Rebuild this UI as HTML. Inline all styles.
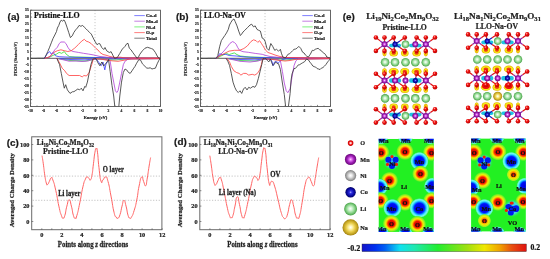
<!DOCTYPE html>
<html><head><meta charset="utf-8"><style>
html,body{margin:0;padding:0;background:#fff;width:550px;height:259px;overflow:hidden;}
svg{display:block;will-change:transform;}
</style></head><body>
<svg width="550" height="259" viewBox="0 0 550 259">
<defs>
<radialGradient id="gO" cx="0.38" cy="0.35" r="0.7"><stop offset="0" stop-color="#ffb0a0"/><stop offset="0.35" stop-color="#f01010"/><stop offset="1" stop-color="#b00000"/></radialGradient>
<radialGradient id="gMn" cx="0.5" cy="0.5" r="0.5"><stop offset="0" stop-color="#ffd0ff"/><stop offset="0.25" stop-color="#e070f0"/><stop offset="0.6" stop-color="#a020b8"/><stop offset="1" stop-color="#6a0878"/></radialGradient>
<radialGradient id="gCo" cx="0.5" cy="0.5" r="0.5"><stop offset="0" stop-color="#b0b0ff"/><stop offset="0.25" stop-color="#3030e0"/><stop offset="0.6" stop-color="#1010b0"/><stop offset="1" stop-color="#000068"/></radialGradient>
<radialGradient id="gLi" cx="0.5" cy="0.5" r="0.5" fx="0.48" fy="0.48"><stop offset="0" stop-color="#ffffff"/><stop offset="0.25" stop-color="#d8f4d8"/><stop offset="0.58" stop-color="#98dc98"/><stop offset="0.86" stop-color="#62b862"/><stop offset="1" stop-color="#4c9c4c"/></radialGradient>
<radialGradient id="gNa" cx="0.5" cy="0.5" r="0.5"><stop offset="0" stop-color="#ffffff"/><stop offset="0.22" stop-color="#fff4b0"/><stop offset="0.55" stop-color="#e8cc48"/><stop offset="0.85" stop-color="#c0a020"/><stop offset="1" stop-color="#a08010"/></radialGradient>
<radialGradient id="gNi" cx="0.5" cy="0.5" r="0.5"><stop offset="0" stop-color="#ffffff"/><stop offset="0.3" stop-color="#e8e8e8"/><stop offset="0.65" stop-color="#b4b4b4"/><stop offset="1" stop-color="#7c7c7c"/></radialGradient>
<radialGradient id="gOl" cx="0.5" cy="0.5" r="0.5"><stop offset="0" stop-color="#ffffff"/><stop offset="0.3" stop-color="#ffb0b0"/><stop offset="0.6" stop-color="#f01010"/><stop offset="1" stop-color="#c00000"/></radialGradient>
<radialGradient id="blobO" cx="0.5" cy="0.5" r="0.5"><stop offset="0" stop-color="#c80000"/><stop offset="0.36" stop-color="#f01400"/><stop offset="0.46" stop-color="#ff6000"/><stop offset="0.55" stop-color="#ffb400"/><stop offset="0.63" stop-color="#f2f000"/><stop offset="0.74" stop-color="#b8f020"/><stop offset="0.87" stop-color="#70f020"/><stop offset="1" stop-color="#22f022" stop-opacity="0"/></radialGradient>
<radialGradient id="blobO2" cx="0.5" cy="0.5" r="0.5"><stop offset="0" stop-color="#e00000"/><stop offset="0.22" stop-color="#f04000"/><stop offset="0.4" stop-color="#ffa000"/><stop offset="0.6" stop-color="#f0f000"/><stop offset="0.85" stop-color="#a0f020"/><stop offset="1" stop-color="#22f022" stop-opacity="0"/></radialGradient>
<radialGradient id="blobH" cx="0.5" cy="0.5" r="0.5"><stop offset="0" stop-color="#0000e0"/><stop offset="0.47" stop-color="#0010f8"/><stop offset="0.55" stop-color="#0050ff"/><stop offset="0.63" stop-color="#10a0ff"/><stop offset="0.72" stop-color="#40e0ff"/><stop offset="0.83" stop-color="#78f8e8"/><stop offset="0.93" stop-color="#40f080"/><stop offset="1" stop-color="#22f022" stop-opacity="0"/></radialGradient>
<radialGradient id="blobT" cx="0.5" cy="0.5" r="0.5"><stop offset="0" stop-color="#20c0f0"/><stop offset="0.6" stop-color="#40d8e0"/><stop offset="1" stop-color="#22f022" stop-opacity="0"/></radialGradient>
<radialGradient id="blobB" cx="0.5" cy="0.5" r="0.5"><stop offset="0" stop-color="#0000e8"/><stop offset="0.5" stop-color="#0010f8"/><stop offset="0.62" stop-color="#0070ff"/><stop offset="0.75" stop-color="#40e0ff"/><stop offset="0.88" stop-color="#60f0c0"/><stop offset="1" stop-color="#22f022" stop-opacity="0"/></radialGradient>
<radialGradient id="blobBs" cx="0.5" cy="0.5" r="0.5"><stop offset="0" stop-color="#0030ff"/><stop offset="0.5" stop-color="#0060ff"/><stop offset="0.75" stop-color="#00d0f0"/><stop offset="1" stop-color="#40e040" stop-opacity="0"/></radialGradient>
<linearGradient id="jet" x1="0" y1="0" x2="1" y2="0">
<stop offset="0" stop-color="#1414c8"/><stop offset="0.08" stop-color="#0030f0"/><stop offset="0.14" stop-color="#0060f4"/><stop offset="0.23" stop-color="#10e0f0"/><stop offset="0.32" stop-color="#20e8b0"/><stop offset="0.46" stop-color="#22ee30"/><stop offset="0.64" stop-color="#a0e010"/><stop offset="0.745" stop-color="#f0e800"/><stop offset="0.84" stop-color="#f0a000"/><stop offset="0.91" stop-color="#e85010"/><stop offset="1" stop-color="#e01010"/></linearGradient>
<clipPath id="clipa"><rect x="30.5" y="10.2" width="130" height="96.3"/></clipPath>
<clipPath id="clipb"><rect x="200.5" y="10.2" width="130" height="96.3"/></clipPath>
<clipPath id="clipm1"><rect x="378.6" y="138.8" width="55.2" height="93.2"/></clipPath>
<clipPath id="clipm2"><rect x="471.1" y="138.5" width="54.8" height="93.3"/></clipPath>
</defs>
<rect width="550" height="259" fill="#ffffff"/>
<text x="7.6" y="19.7" font-family='"Liberation Sans", sans-serif' font-size="9.9" font-weight="bold" text-anchor="start" fill="#1a1a1a" stroke="#1a1a1a" stroke-width="0.22" >(a)</text>
<text x="175.9" y="19.7" font-family='"Liberation Sans", sans-serif' font-size="9.9" font-weight="bold" text-anchor="start" fill="#1a1a1a" stroke="#1a1a1a" stroke-width="0.22" >(b)</text>
<text x="342.7" y="19.7" font-family='"Liberation Sans", sans-serif' font-size="9.9" font-weight="bold" text-anchor="start" fill="#1a1a1a" stroke="#1a1a1a" stroke-width="0.22" >(e)</text>
<text x="6.7" y="145.5" font-family='"Liberation Sans", sans-serif' font-size="9.9" font-weight="bold" text-anchor="start" fill="#1a1a1a" stroke="#1a1a1a" stroke-width="0.22" >(c)</text>
<text x="174.10000000000002" y="144.5" font-family='"Liberation Sans", sans-serif' font-size="9.9" font-weight="bold" text-anchor="start" fill="#1a1a1a" stroke="#1a1a1a" stroke-width="0.22" >(d)</text>
<line x1="30.5" y1="10.2" x2="32.1" y2="10.2" stroke="#333" stroke-width="0.6"/>
<line x1="30.5" y1="13.6" x2="31.5" y2="13.6" stroke="#333" stroke-width="0.5"/>
<text x="28.7" y="11.399999999999999" font-family='"Liberation Serif", serif' font-size="3.6" font-weight="bold" text-anchor="end" fill="#333" stroke="#333" stroke-width="0.22" >35</text>
<line x1="30.5" y1="17.1" x2="32.1" y2="17.1" stroke="#333" stroke-width="0.6"/>
<line x1="30.5" y1="20.5" x2="31.5" y2="20.5" stroke="#333" stroke-width="0.5"/>
<text x="28.7" y="18.27857142857143" font-family='"Liberation Serif", serif' font-size="3.6" font-weight="bold" text-anchor="end" fill="#333" stroke="#333" stroke-width="0.22" >30</text>
<line x1="30.5" y1="24.0" x2="32.1" y2="24.0" stroke="#333" stroke-width="0.6"/>
<line x1="30.5" y1="27.4" x2="31.5" y2="27.4" stroke="#333" stroke-width="0.5"/>
<text x="28.7" y="25.157142857142855" font-family='"Liberation Serif", serif' font-size="3.6" font-weight="bold" text-anchor="end" fill="#333" stroke="#333" stroke-width="0.22" >25</text>
<line x1="30.5" y1="30.8" x2="32.1" y2="30.8" stroke="#333" stroke-width="0.6"/>
<line x1="30.5" y1="34.3" x2="31.5" y2="34.3" stroke="#333" stroke-width="0.5"/>
<text x="28.7" y="32.035714285714285" font-family='"Liberation Serif", serif' font-size="3.6" font-weight="bold" text-anchor="end" fill="#333" stroke="#333" stroke-width="0.22" >20</text>
<line x1="30.5" y1="37.7" x2="32.1" y2="37.7" stroke="#333" stroke-width="0.6"/>
<line x1="30.5" y1="41.2" x2="31.5" y2="41.2" stroke="#333" stroke-width="0.5"/>
<text x="28.7" y="38.91428571428572" font-family='"Liberation Serif", serif' font-size="3.6" font-weight="bold" text-anchor="end" fill="#333" stroke="#333" stroke-width="0.22" >15</text>
<line x1="30.5" y1="44.6" x2="32.1" y2="44.6" stroke="#333" stroke-width="0.6"/>
<line x1="30.5" y1="48.0" x2="31.5" y2="48.0" stroke="#333" stroke-width="0.5"/>
<text x="28.7" y="45.792857142857144" font-family='"Liberation Serif", serif' font-size="3.6" font-weight="bold" text-anchor="end" fill="#333" stroke="#333" stroke-width="0.22" >10</text>
<line x1="30.5" y1="51.5" x2="32.1" y2="51.5" stroke="#333" stroke-width="0.6"/>
<line x1="30.5" y1="54.9" x2="31.5" y2="54.9" stroke="#333" stroke-width="0.5"/>
<text x="28.7" y="52.67142857142858" font-family='"Liberation Serif", serif' font-size="3.6" font-weight="bold" text-anchor="end" fill="#333" stroke="#333" stroke-width="0.22" >5</text>
<line x1="30.5" y1="58.3" x2="32.1" y2="58.3" stroke="#333" stroke-width="0.6"/>
<line x1="30.5" y1="61.8" x2="31.5" y2="61.8" stroke="#333" stroke-width="0.5"/>
<text x="28.7" y="59.55" font-family='"Liberation Serif", serif' font-size="3.6" font-weight="bold" text-anchor="end" fill="#333" stroke="#333" stroke-width="0.22" >0</text>
<line x1="30.5" y1="65.2" x2="32.1" y2="65.2" stroke="#333" stroke-width="0.6"/>
<line x1="30.5" y1="68.7" x2="31.5" y2="68.7" stroke="#333" stroke-width="0.5"/>
<text x="28.7" y="66.42857142857143" font-family='"Liberation Serif", serif' font-size="3.6" font-weight="bold" text-anchor="end" fill="#333" stroke="#333" stroke-width="0.22" >-5</text>
<line x1="30.5" y1="72.1" x2="32.1" y2="72.1" stroke="#333" stroke-width="0.6"/>
<line x1="30.5" y1="75.5" x2="31.5" y2="75.5" stroke="#333" stroke-width="0.5"/>
<text x="28.7" y="73.30714285714286" font-family='"Liberation Serif", serif' font-size="3.6" font-weight="bold" text-anchor="end" fill="#333" stroke="#333" stroke-width="0.22" >-10</text>
<line x1="30.5" y1="79.0" x2="32.1" y2="79.0" stroke="#333" stroke-width="0.6"/>
<line x1="30.5" y1="82.4" x2="31.5" y2="82.4" stroke="#333" stroke-width="0.5"/>
<text x="28.7" y="80.1857142857143" font-family='"Liberation Serif", serif' font-size="3.6" font-weight="bold" text-anchor="end" fill="#333" stroke="#333" stroke-width="0.22" >-15</text>
<line x1="30.5" y1="85.9" x2="32.1" y2="85.9" stroke="#333" stroke-width="0.6"/>
<line x1="30.5" y1="89.3" x2="31.5" y2="89.3" stroke="#333" stroke-width="0.5"/>
<text x="28.7" y="87.06428571428572" font-family='"Liberation Serif", serif' font-size="3.6" font-weight="bold" text-anchor="end" fill="#333" stroke="#333" stroke-width="0.22" >-20</text>
<line x1="30.5" y1="92.7" x2="32.1" y2="92.7" stroke="#333" stroke-width="0.6"/>
<line x1="30.5" y1="96.2" x2="31.5" y2="96.2" stroke="#333" stroke-width="0.5"/>
<text x="28.7" y="93.94285714285715" font-family='"Liberation Serif", serif' font-size="3.6" font-weight="bold" text-anchor="end" fill="#333" stroke="#333" stroke-width="0.22" >-25</text>
<line x1="30.5" y1="99.6" x2="32.1" y2="99.6" stroke="#333" stroke-width="0.6"/>
<line x1="30.5" y1="103.1" x2="31.5" y2="103.1" stroke="#333" stroke-width="0.5"/>
<text x="28.7" y="100.82142857142858" font-family='"Liberation Serif", serif' font-size="3.6" font-weight="bold" text-anchor="end" fill="#333" stroke="#333" stroke-width="0.22" >-30</text>
<line x1="30.5" y1="106.5" x2="32.1" y2="106.5" stroke="#333" stroke-width="0.6"/>
<text x="28.7" y="107.7" font-family='"Liberation Serif", serif' font-size="3.6" font-weight="bold" text-anchor="end" fill="#333" stroke="#333" stroke-width="0.22" >-35</text>
<line x1="30.5" y1="106.5" x2="30.5" y2="104.9" stroke="#333" stroke-width="0.6"/>
<text x="30.5" y="112.1" font-family='"Liberation Serif", serif' font-size="3.6" font-weight="bold" text-anchor="middle" fill="#333" stroke="#333" stroke-width="0.22" >-10</text>
<line x1="37.0" y1="106.5" x2="37.0" y2="105.5" stroke="#333" stroke-width="0.6"/>
<line x1="43.5" y1="106.5" x2="43.5" y2="104.9" stroke="#333" stroke-width="0.6"/>
<text x="43.5" y="112.1" font-family='"Liberation Serif", serif' font-size="3.6" font-weight="bold" text-anchor="middle" fill="#333" stroke="#333" stroke-width="0.22" >-8</text>
<line x1="50.0" y1="106.5" x2="50.0" y2="105.5" stroke="#333" stroke-width="0.6"/>
<line x1="56.5" y1="106.5" x2="56.5" y2="104.9" stroke="#333" stroke-width="0.6"/>
<text x="56.5" y="112.1" font-family='"Liberation Serif", serif' font-size="3.6" font-weight="bold" text-anchor="middle" fill="#333" stroke="#333" stroke-width="0.22" >-6</text>
<line x1="63.0" y1="106.5" x2="63.0" y2="105.5" stroke="#333" stroke-width="0.6"/>
<line x1="69.5" y1="106.5" x2="69.5" y2="104.9" stroke="#333" stroke-width="0.6"/>
<text x="69.5" y="112.1" font-family='"Liberation Serif", serif' font-size="3.6" font-weight="bold" text-anchor="middle" fill="#333" stroke="#333" stroke-width="0.22" >-4</text>
<line x1="76.0" y1="106.5" x2="76.0" y2="105.5" stroke="#333" stroke-width="0.6"/>
<line x1="82.5" y1="106.5" x2="82.5" y2="104.9" stroke="#333" stroke-width="0.6"/>
<text x="82.5" y="112.1" font-family='"Liberation Serif", serif' font-size="3.6" font-weight="bold" text-anchor="middle" fill="#333" stroke="#333" stroke-width="0.22" >-2</text>
<line x1="89.0" y1="106.5" x2="89.0" y2="105.5" stroke="#333" stroke-width="0.6"/>
<line x1="95.5" y1="106.5" x2="95.5" y2="104.9" stroke="#333" stroke-width="0.6"/>
<text x="95.5" y="112.1" font-family='"Liberation Serif", serif' font-size="3.6" font-weight="bold" text-anchor="middle" fill="#333" stroke="#333" stroke-width="0.22" >0</text>
<line x1="102.0" y1="106.5" x2="102.0" y2="105.5" stroke="#333" stroke-width="0.6"/>
<line x1="108.5" y1="106.5" x2="108.5" y2="104.9" stroke="#333" stroke-width="0.6"/>
<text x="108.5" y="112.1" font-family='"Liberation Serif", serif' font-size="3.6" font-weight="bold" text-anchor="middle" fill="#333" stroke="#333" stroke-width="0.22" >2</text>
<line x1="115.0" y1="106.5" x2="115.0" y2="105.5" stroke="#333" stroke-width="0.6"/>
<line x1="121.5" y1="106.5" x2="121.5" y2="104.9" stroke="#333" stroke-width="0.6"/>
<text x="121.5" y="112.1" font-family='"Liberation Serif", serif' font-size="3.6" font-weight="bold" text-anchor="middle" fill="#333" stroke="#333" stroke-width="0.22" >4</text>
<line x1="128.0" y1="106.5" x2="128.0" y2="105.5" stroke="#333" stroke-width="0.6"/>
<line x1="134.5" y1="106.5" x2="134.5" y2="104.9" stroke="#333" stroke-width="0.6"/>
<text x="134.5" y="112.1" font-family='"Liberation Serif", serif' font-size="3.6" font-weight="bold" text-anchor="middle" fill="#333" stroke="#333" stroke-width="0.22" >6</text>
<line x1="141.0" y1="106.5" x2="141.0" y2="105.5" stroke="#333" stroke-width="0.6"/>
<line x1="147.5" y1="106.5" x2="147.5" y2="104.9" stroke="#333" stroke-width="0.6"/>
<text x="147.5" y="112.1" font-family='"Liberation Serif", serif' font-size="3.6" font-weight="bold" text-anchor="middle" fill="#333" stroke="#333" stroke-width="0.22" >8</text>
<line x1="154.0" y1="106.5" x2="154.0" y2="105.5" stroke="#333" stroke-width="0.6"/>
<line x1="160.5" y1="106.5" x2="160.5" y2="104.9" stroke="#333" stroke-width="0.6"/>
<text x="160.5" y="112.1" font-family='"Liberation Serif", serif' font-size="3.6" font-weight="bold" text-anchor="middle" fill="#333" stroke="#333" stroke-width="0.22" >10</text>
<text x="95.5" y="119.3" font-family='"Liberation Serif", serif' font-size="4.5" font-weight="bold" text-anchor="middle" fill="#222" stroke="#222" stroke-width="0.22" >Energy (eV)</text>
<text x="0" y="0" font-family='"Liberation Serif", serif' font-size="4.5" font-weight="bold" fill="#222" stroke="#222" stroke-width="0.15" text-anchor="middle" transform="translate(16.9,59) rotate(-90)">PDOS (States/eV)</text>
<line x1="95.0" y1="10.2" x2="95.0" y2="106.5" stroke="#a0a0a0" stroke-width="0.7" stroke-dasharray="0.9,2.1"/>
<line x1="30.5" y1="58.3" x2="160.5" y2="58.3" stroke="#333" stroke-width="0.8"/>
<g clip-path="url(#clipa)">
<polyline points="46.0,58.2 50.4,56.7 53.9,55.0 56.5,54.1 59.1,52.4 61.7,53.3 64.3,51.5 66.1,54.1 69.6,56.7 75.0,57.0 85.0,57.2 95.0,57.5 110.0,57.6 160.0,58.0" fill="none" stroke="#30e030" stroke-width="0.9" stroke-linejoin="round" stroke-linecap="round" opacity="0.9"/>
<polyline points="58.0,58.5 70.0,60.5 85.0,61.0 93.0,59.5 100.0,59.2 108.0,59.8 116.2,59.9 122.0,59.3 130.0,58.8 160.0,58.6" fill="none" stroke="#30e030" stroke-width="0.9" stroke-linejoin="round" stroke-linecap="round" opacity="0.9"/>
<polyline points="44.3,58.2 47.0,54.1 49.6,51.5 51.3,54.1 53.0,52.4 55.7,55.9 59.1,56.7 65.0,57.0 75.0,57.3 85.0,57.5 95.0,57.6 100.0,57.3 105.0,57.6 160.0,58.2" fill="none" stroke="#3a3aff" stroke-width="0.9" stroke-linejoin="round" stroke-linecap="round" opacity="0.9"/>
<polyline points="60.0,58.5 70.0,59.5 85.0,59.8 94.0,59.0 96.5,59.5 98.7,62.1 100.0,64.5 101.3,65.6 103.0,62.1 104.8,69.9 106.0,64.0 107.5,61.8 109.5,58.9 115.0,58.8 160.0,58.6" fill="none" stroke="#3a3aff" stroke-width="0.9" stroke-linejoin="round" stroke-linecap="round" opacity="0.9"/>
<polyline points="45.0,58.2 50.0,57.0 54.8,49.8 57.4,47.2 59.1,43.7 60.9,42.0 64.3,42.0 66.1,43.7 67.8,47.2 69.6,49.8 73.0,51.5 78.3,52.4 83.5,53.3 88.7,54.1 93.9,55.0 100.0,56.5 105.0,57.0 112.0,58.0 160.0,58.2" fill="none" stroke="#b040d8" stroke-width="0.9" stroke-linejoin="round" stroke-linecap="round" opacity="0.9"/>
<polyline points="56.0,58.5 62.0,59.5 69.0,61.2 76.0,61.0 82.0,61.5 88.0,61.0 94.0,59.0 100.0,59.0 105.0,59.3 108.5,59.8 110.2,61.2 112.0,73.4 113.7,82.1 115.4,90.8 116.8,92.5 118.0,90.8 119.8,82.1 121.5,73.4 123.3,64.7 125.0,61.2 127.6,59.5 132.0,58.8 160.0,58.6" fill="none" stroke="#b040d8" stroke-width="0.9" stroke-linejoin="round" stroke-linecap="round" opacity="0.9"/>
<polyline points="45.0,58.2 48.0,57.5 50.4,55.9 53.9,52.4 57.4,50.7 60.9,49.8 64.3,50.7 67.8,51.5 71.3,50.7 74.8,48.0 78.3,44.6 81.7,41.1 84.3,39.3 86.1,41.1 88.7,42.0 91.3,43.7 93.9,46.3 96.0,48.5 98.0,50.0 100.0,52.5 103.0,54.5 106.0,55.2 110.0,56.5 115.0,57.5 120.0,57.2 125.0,57.8 160.0,58.0" fill="none" stroke="#ff4040" stroke-width="0.9" stroke-linejoin="round" stroke-linecap="round" opacity="0.9"/>
<polyline points="57.0,58.5 59.6,63.0 62.2,68.2 64.8,70.8 66.5,73.4 69.1,75.5 74.0,75.5 79.6,75.5 82.2,76.9 83.9,75.5 86.5,76.0 89.1,72.5 91.7,64.7 93.5,58.6 100.0,59.0 106.0,60.0 112.0,60.8 118.0,61.3 124.0,60.2 130.0,59.0 160.0,58.6" fill="none" stroke="#ff4040" stroke-width="0.9" stroke-linejoin="round" stroke-linecap="round" opacity="0.9"/>
<polyline points="30.5,58.3 31.9,58.3 33.3,58.3 34.7,58.3 36.1,58.3 37.5,58.2 38.9,58.2 40.3,58.2 41.7,58.2 43.1,58.2 44.5,58.2 45.2,57.0 47.8,51.5 49.6,47.2 51.3,42.8 53.0,38.5 54.8,35.0 56.5,31.5 57.4,28.0 58.8,25.4 60.0,22.0 61.2,20.2 62.6,21.1 64.0,19.9 65.2,22.0 67.0,27.2 68.7,32.4 70.4,37.6 72.2,35.9 73.9,32.4 75.7,29.8 77.4,28.0 79.1,25.4 80.9,26.3 82.6,25.4 84.3,27.2 86.1,28.9 87.8,30.7 89.6,32.4 91.3,34.1 93.0,37.6 94.8,41.1 97.0,44.7 98.4,43.7 99.8,43.7 101.8,47.6 103.7,49.5 105.0,47.5 106.7,50.8 109.3,52.5 111.1,51.7 112.8,55.1 114.6,58.4 115.9,58.0 117.2,57.7 119.8,53.4 121.1,51.1 122.4,49.0 125.0,46.4 126.7,43.8 128.0,43.3 129.3,48.2 131.1,49.9 132.8,52.5 135.4,56.0 137.2,58.3 138.5,56.9 139.8,54.3 142.4,50.8 145.0,48.2 147.6,47.3 150.2,48.2 151.5,48.6 152.8,49.0 155.4,52.5 157.2,56.0 158.9,58.3 160.5,58.3" fill="none" stroke="#3a3a3a" stroke-width="0.85" stroke-linejoin="round" stroke-linecap="round" opacity="1"/>
<polyline points="57.0,58.5 58.3,61.8 59.6,64.7 61.3,73.4 63.0,82.1 64.3,88.2 65.7,84.7 67.4,89.9 70.0,93.4 72.6,91.7 73.9,91.7 75.2,90.8 77.8,89.0 79.6,89.9 81.3,88.2 83.0,90.8 84.8,86.4 85.7,87.3 87.4,82.1 89.1,73.4 90.9,64.7 92.6,59.5 94.3,58.5 96.0,58.5 97.9,62.8 99.8,65.7 101.8,62.0 103.7,66.0 105.6,63.7 107.0,62.0 108.5,59.5 110.2,71.7 112.0,85.6 113.7,96.0 114.8,106.5 116.1,107.0 117.5,107.3 118.8,106.5 119.8,96.0 121.5,82.1 123.3,72.5 125.0,69.0 126.7,69.9 128.5,72.5 130.2,73.4 132.0,70.8 133.7,68.2 135.0,66.4 136.3,63.8 138.9,59.5 140.7,60.3 142.4,63.8 145.0,66.4 146.8,68.1 148.5,68.2 150.2,67.8 152.0,69.0 153.7,68.5 155.4,68.2 157.2,63.8 158.9,60.3 160.5,58.5" fill="none" stroke="#3a3a3a" stroke-width="0.85" stroke-linejoin="round" stroke-linecap="round" opacity="1"/>
</g>
<rect x="30.5" y="10.2" width="130.0" height="96.3" fill="none" stroke="#555" stroke-width="0.9"/>
<line x1="134.3" y1="15.6" x2="144.8" y2="15.6" stroke="#7070ff" stroke-width="0.9"/>
<text x="145.9" y="17.3" font-family='"Liberation Serif", serif' font-size="5.0" font-weight="bold" text-anchor="start" fill="#222" stroke="#222" stroke-width="0.22" >Co-d</text>
<line x1="134.3" y1="21.2" x2="144.8" y2="21.2" stroke="#c070e0" stroke-width="0.9"/>
<text x="145.9" y="22.95" font-family='"Liberation Serif", serif' font-size="5.0" font-weight="bold" text-anchor="start" fill="#222" stroke="#222" stroke-width="0.22" >Mn-d</text>
<line x1="134.3" y1="26.9" x2="144.8" y2="26.9" stroke="#70f070" stroke-width="0.9"/>
<text x="145.9" y="28.599999999999998" font-family='"Liberation Serif", serif' font-size="5.0" font-weight="bold" text-anchor="start" fill="#222" stroke="#222" stroke-width="0.22" >Ni-d</text>
<line x1="134.3" y1="32.6" x2="144.8" y2="32.6" stroke="#ff7070" stroke-width="0.9"/>
<text x="145.9" y="34.25000000000001" font-family='"Liberation Serif", serif' font-size="5.0" font-weight="bold" text-anchor="start" fill="#222" stroke="#222" stroke-width="0.22" >O-p</text>
<line x1="134.3" y1="38.2" x2="144.8" y2="38.2" stroke="#707070" stroke-width="0.9"/>
<text x="145.9" y="39.900000000000006" font-family='"Liberation Serif", serif' font-size="5.0" font-weight="bold" text-anchor="start" fill="#222" stroke="#222" stroke-width="0.22" >Total</text>
<text x="34.0" y="17.8" font-family='"Liberation Serif", serif' font-size="7.9" font-weight="bold" text-anchor="start" fill="#111" stroke="#111" stroke-width="0.22" >Pristine-LLO</text>
<line x1="200.5" y1="10.2" x2="202.1" y2="10.2" stroke="#333" stroke-width="0.6"/>
<line x1="200.5" y1="13.6" x2="201.5" y2="13.6" stroke="#333" stroke-width="0.5"/>
<text x="198.7" y="11.399999999999999" font-family='"Liberation Serif", serif' font-size="3.6" font-weight="bold" text-anchor="end" fill="#333" stroke="#333" stroke-width="0.22" >35</text>
<line x1="200.5" y1="17.1" x2="202.1" y2="17.1" stroke="#333" stroke-width="0.6"/>
<line x1="200.5" y1="20.5" x2="201.5" y2="20.5" stroke="#333" stroke-width="0.5"/>
<text x="198.7" y="18.27857142857143" font-family='"Liberation Serif", serif' font-size="3.6" font-weight="bold" text-anchor="end" fill="#333" stroke="#333" stroke-width="0.22" >30</text>
<line x1="200.5" y1="24.0" x2="202.1" y2="24.0" stroke="#333" stroke-width="0.6"/>
<line x1="200.5" y1="27.4" x2="201.5" y2="27.4" stroke="#333" stroke-width="0.5"/>
<text x="198.7" y="25.157142857142855" font-family='"Liberation Serif", serif' font-size="3.6" font-weight="bold" text-anchor="end" fill="#333" stroke="#333" stroke-width="0.22" >25</text>
<line x1="200.5" y1="30.8" x2="202.1" y2="30.8" stroke="#333" stroke-width="0.6"/>
<line x1="200.5" y1="34.3" x2="201.5" y2="34.3" stroke="#333" stroke-width="0.5"/>
<text x="198.7" y="32.035714285714285" font-family='"Liberation Serif", serif' font-size="3.6" font-weight="bold" text-anchor="end" fill="#333" stroke="#333" stroke-width="0.22" >20</text>
<line x1="200.5" y1="37.7" x2="202.1" y2="37.7" stroke="#333" stroke-width="0.6"/>
<line x1="200.5" y1="41.2" x2="201.5" y2="41.2" stroke="#333" stroke-width="0.5"/>
<text x="198.7" y="38.91428571428572" font-family='"Liberation Serif", serif' font-size="3.6" font-weight="bold" text-anchor="end" fill="#333" stroke="#333" stroke-width="0.22" >15</text>
<line x1="200.5" y1="44.6" x2="202.1" y2="44.6" stroke="#333" stroke-width="0.6"/>
<line x1="200.5" y1="48.0" x2="201.5" y2="48.0" stroke="#333" stroke-width="0.5"/>
<text x="198.7" y="45.792857142857144" font-family='"Liberation Serif", serif' font-size="3.6" font-weight="bold" text-anchor="end" fill="#333" stroke="#333" stroke-width="0.22" >10</text>
<line x1="200.5" y1="51.5" x2="202.1" y2="51.5" stroke="#333" stroke-width="0.6"/>
<line x1="200.5" y1="54.9" x2="201.5" y2="54.9" stroke="#333" stroke-width="0.5"/>
<text x="198.7" y="52.67142857142858" font-family='"Liberation Serif", serif' font-size="3.6" font-weight="bold" text-anchor="end" fill="#333" stroke="#333" stroke-width="0.22" >5</text>
<line x1="200.5" y1="58.3" x2="202.1" y2="58.3" stroke="#333" stroke-width="0.6"/>
<line x1="200.5" y1="61.8" x2="201.5" y2="61.8" stroke="#333" stroke-width="0.5"/>
<text x="198.7" y="59.55" font-family='"Liberation Serif", serif' font-size="3.6" font-weight="bold" text-anchor="end" fill="#333" stroke="#333" stroke-width="0.22" >0</text>
<line x1="200.5" y1="65.2" x2="202.1" y2="65.2" stroke="#333" stroke-width="0.6"/>
<line x1="200.5" y1="68.7" x2="201.5" y2="68.7" stroke="#333" stroke-width="0.5"/>
<text x="198.7" y="66.42857142857143" font-family='"Liberation Serif", serif' font-size="3.6" font-weight="bold" text-anchor="end" fill="#333" stroke="#333" stroke-width="0.22" >-5</text>
<line x1="200.5" y1="72.1" x2="202.1" y2="72.1" stroke="#333" stroke-width="0.6"/>
<line x1="200.5" y1="75.5" x2="201.5" y2="75.5" stroke="#333" stroke-width="0.5"/>
<text x="198.7" y="73.30714285714286" font-family='"Liberation Serif", serif' font-size="3.6" font-weight="bold" text-anchor="end" fill="#333" stroke="#333" stroke-width="0.22" >-10</text>
<line x1="200.5" y1="79.0" x2="202.1" y2="79.0" stroke="#333" stroke-width="0.6"/>
<line x1="200.5" y1="82.4" x2="201.5" y2="82.4" stroke="#333" stroke-width="0.5"/>
<text x="198.7" y="80.1857142857143" font-family='"Liberation Serif", serif' font-size="3.6" font-weight="bold" text-anchor="end" fill="#333" stroke="#333" stroke-width="0.22" >-15</text>
<line x1="200.5" y1="85.9" x2="202.1" y2="85.9" stroke="#333" stroke-width="0.6"/>
<line x1="200.5" y1="89.3" x2="201.5" y2="89.3" stroke="#333" stroke-width="0.5"/>
<text x="198.7" y="87.06428571428572" font-family='"Liberation Serif", serif' font-size="3.6" font-weight="bold" text-anchor="end" fill="#333" stroke="#333" stroke-width="0.22" >-20</text>
<line x1="200.5" y1="92.7" x2="202.1" y2="92.7" stroke="#333" stroke-width="0.6"/>
<line x1="200.5" y1="96.2" x2="201.5" y2="96.2" stroke="#333" stroke-width="0.5"/>
<text x="198.7" y="93.94285714285715" font-family='"Liberation Serif", serif' font-size="3.6" font-weight="bold" text-anchor="end" fill="#333" stroke="#333" stroke-width="0.22" >-25</text>
<line x1="200.5" y1="99.6" x2="202.1" y2="99.6" stroke="#333" stroke-width="0.6"/>
<line x1="200.5" y1="103.1" x2="201.5" y2="103.1" stroke="#333" stroke-width="0.5"/>
<text x="198.7" y="100.82142857142858" font-family='"Liberation Serif", serif' font-size="3.6" font-weight="bold" text-anchor="end" fill="#333" stroke="#333" stroke-width="0.22" >-30</text>
<line x1="200.5" y1="106.5" x2="202.1" y2="106.5" stroke="#333" stroke-width="0.6"/>
<text x="198.7" y="107.7" font-family='"Liberation Serif", serif' font-size="3.6" font-weight="bold" text-anchor="end" fill="#333" stroke="#333" stroke-width="0.22" >-35</text>
<line x1="200.5" y1="106.5" x2="200.5" y2="104.9" stroke="#333" stroke-width="0.6"/>
<text x="200.5" y="112.1" font-family='"Liberation Serif", serif' font-size="3.6" font-weight="bold" text-anchor="middle" fill="#333" stroke="#333" stroke-width="0.22" >-10</text>
<line x1="207.0" y1="106.5" x2="207.0" y2="105.5" stroke="#333" stroke-width="0.6"/>
<line x1="213.5" y1="106.5" x2="213.5" y2="104.9" stroke="#333" stroke-width="0.6"/>
<text x="213.5" y="112.1" font-family='"Liberation Serif", serif' font-size="3.6" font-weight="bold" text-anchor="middle" fill="#333" stroke="#333" stroke-width="0.22" >-8</text>
<line x1="220.0" y1="106.5" x2="220.0" y2="105.5" stroke="#333" stroke-width="0.6"/>
<line x1="226.5" y1="106.5" x2="226.5" y2="104.9" stroke="#333" stroke-width="0.6"/>
<text x="226.5" y="112.1" font-family='"Liberation Serif", serif' font-size="3.6" font-weight="bold" text-anchor="middle" fill="#333" stroke="#333" stroke-width="0.22" >-6</text>
<line x1="233.0" y1="106.5" x2="233.0" y2="105.5" stroke="#333" stroke-width="0.6"/>
<line x1="239.5" y1="106.5" x2="239.5" y2="104.9" stroke="#333" stroke-width="0.6"/>
<text x="239.5" y="112.1" font-family='"Liberation Serif", serif' font-size="3.6" font-weight="bold" text-anchor="middle" fill="#333" stroke="#333" stroke-width="0.22" >-4</text>
<line x1="246.0" y1="106.5" x2="246.0" y2="105.5" stroke="#333" stroke-width="0.6"/>
<line x1="252.5" y1="106.5" x2="252.5" y2="104.9" stroke="#333" stroke-width="0.6"/>
<text x="252.5" y="112.1" font-family='"Liberation Serif", serif' font-size="3.6" font-weight="bold" text-anchor="middle" fill="#333" stroke="#333" stroke-width="0.22" >-2</text>
<line x1="259.0" y1="106.5" x2="259.0" y2="105.5" stroke="#333" stroke-width="0.6"/>
<line x1="265.5" y1="106.5" x2="265.5" y2="104.9" stroke="#333" stroke-width="0.6"/>
<text x="265.5" y="112.1" font-family='"Liberation Serif", serif' font-size="3.6" font-weight="bold" text-anchor="middle" fill="#333" stroke="#333" stroke-width="0.22" >0</text>
<line x1="272.0" y1="106.5" x2="272.0" y2="105.5" stroke="#333" stroke-width="0.6"/>
<line x1="278.5" y1="106.5" x2="278.5" y2="104.9" stroke="#333" stroke-width="0.6"/>
<text x="278.5" y="112.1" font-family='"Liberation Serif", serif' font-size="3.6" font-weight="bold" text-anchor="middle" fill="#333" stroke="#333" stroke-width="0.22" >2</text>
<line x1="285.0" y1="106.5" x2="285.0" y2="105.5" stroke="#333" stroke-width="0.6"/>
<line x1="291.5" y1="106.5" x2="291.5" y2="104.9" stroke="#333" stroke-width="0.6"/>
<text x="291.5" y="112.1" font-family='"Liberation Serif", serif' font-size="3.6" font-weight="bold" text-anchor="middle" fill="#333" stroke="#333" stroke-width="0.22" >4</text>
<line x1="298.0" y1="106.5" x2="298.0" y2="105.5" stroke="#333" stroke-width="0.6"/>
<line x1="304.5" y1="106.5" x2="304.5" y2="104.9" stroke="#333" stroke-width="0.6"/>
<text x="304.5" y="112.1" font-family='"Liberation Serif", serif' font-size="3.6" font-weight="bold" text-anchor="middle" fill="#333" stroke="#333" stroke-width="0.22" >6</text>
<line x1="311.0" y1="106.5" x2="311.0" y2="105.5" stroke="#333" stroke-width="0.6"/>
<line x1="317.5" y1="106.5" x2="317.5" y2="104.9" stroke="#333" stroke-width="0.6"/>
<text x="317.5" y="112.1" font-family='"Liberation Serif", serif' font-size="3.6" font-weight="bold" text-anchor="middle" fill="#333" stroke="#333" stroke-width="0.22" >8</text>
<line x1="324.0" y1="106.5" x2="324.0" y2="105.5" stroke="#333" stroke-width="0.6"/>
<line x1="330.5" y1="106.5" x2="330.5" y2="104.9" stroke="#333" stroke-width="0.6"/>
<text x="330.5" y="112.1" font-family='"Liberation Serif", serif' font-size="3.6" font-weight="bold" text-anchor="middle" fill="#333" stroke="#333" stroke-width="0.22" >10</text>
<text x="265.5" y="119.3" font-family='"Liberation Serif", serif' font-size="4.5" font-weight="bold" text-anchor="middle" fill="#222" stroke="#222" stroke-width="0.22" >Energy (eV)</text>
<text x="0" y="0" font-family='"Liberation Serif", serif' font-size="4.5" font-weight="bold" fill="#222" stroke="#222" stroke-width="0.15" text-anchor="middle" transform="translate(186.9,59) rotate(-90)">PDOS (States/eV)</text>
<line x1="265.0" y1="10.2" x2="265.0" y2="106.5" stroke="#a0a0a0" stroke-width="0.7" stroke-dasharray="0.9,2.1"/>
<line x1="200.5" y1="58.3" x2="330.5" y2="58.3" stroke="#333" stroke-width="0.8"/>
<g clip-path="url(#clipb)">
<polyline points="217.0,58.2 220.4,56.3 223.9,54.6 226.5,53.4 229.1,54.6 231.7,53.7 234.3,52.9 237.0,54.6 240.0,56.0 250.0,57.0 270.0,57.6 330.0,58.0" fill="none" stroke="#30e030" stroke-width="0.9" stroke-linejoin="round" stroke-linecap="round" opacity="0.9"/>
<polyline points="228.0,58.5 240.0,60.5 255.0,61.0 263.0,59.5 270.0,59.2 278.0,59.8 286.0,60.0 292.0,59.3 300.0,58.8 330.0,58.6" fill="none" stroke="#30e030" stroke-width="0.9" stroke-linejoin="round" stroke-linecap="round" opacity="0.9"/>
<polyline points="216.0,58.2 217.8,57.0 219.6,53.7 222.2,54.6 225.7,54.3 229.1,55.5 236.1,56.0 245.0,57.0 255.0,57.4 265.0,57.6 330.0,58.2" fill="none" stroke="#3a3aff" stroke-width="0.9" stroke-linejoin="round" stroke-linecap="round" opacity="0.9"/>
<polyline points="230.0,58.5 240.0,59.5 255.0,59.8 264.0,59.0 268.0,59.0 270.4,59.2 271.8,61.0 273.0,65.6 274.5,62.0 276.0,61.5 278.5,62.8 281.4,59.9 286.0,58.8 330.0,58.6" fill="none" stroke="#3a3aff" stroke-width="0.9" stroke-linejoin="round" stroke-linecap="round" opacity="0.9"/>
<polyline points="216.0,58.2 218.0,57.5 220.4,54.6 223.9,51.1 227.4,46.8 230.0,43.3 232.6,41.6 234.3,42.4 236.1,44.2 237.8,47.7 239.6,50.3 243.0,51.7 248.3,52.3 255.2,53.4 262.2,54.3 266.0,55.5 270.0,56.5 280.0,57.5 330.0,58.2" fill="none" stroke="#b040d8" stroke-width="0.9" stroke-linejoin="round" stroke-linecap="round" opacity="0.9"/>
<polyline points="226.0,58.5 232.0,59.5 240.0,61.3 250.0,62.0 258.0,61.0 264.0,59.0 272.0,59.2 278.0,59.5 280.4,60.8 282.4,71.4 284.3,83.0 286.2,90.7 287.8,92.7 290.1,88.8 292.0,77.2 294.0,65.7 295.9,60.8 298.0,59.0 330.0,58.6" fill="none" stroke="#b040d8" stroke-width="0.9" stroke-linejoin="round" stroke-linecap="round" opacity="0.9"/>
<polyline points="217.0,58.2 218.7,56.3 223.9,53.7 229.1,51.1 234.3,50.3 239.6,50.3 243.9,48.5 247.4,45.9 250.9,41.6 253.5,39.8 256.1,40.7 257.8,42.4 259.6,40.7 261.3,43.3 263.0,45.9 265.7,50.3 268.0,52.5 271.0,53.5 275.0,55.0 280.0,56.5 285.0,57.5 330.0,58.0" fill="none" stroke="#ff4040" stroke-width="0.9" stroke-linejoin="round" stroke-linecap="round" opacity="0.9"/>
<polyline points="227.0,58.5 229.6,62.1 231.3,66.4 233.9,70.8 236.5,72.5 239.1,73.4 240.9,75.1 243.5,73.4 246.1,73.4 248.7,75.1 252.2,74.3 254.8,75.1 257.4,73.4 259.7,69.9 261.4,64.7 262.6,58.6 270.0,59.2 278.0,60.2 285.0,61.0 290.0,60.5 296.0,59.3 330.0,58.6" fill="none" stroke="#ff4040" stroke-width="0.9" stroke-linejoin="round" stroke-linecap="round" opacity="0.9"/>
<polyline points="200.5,58.3 201.8,58.3 203.2,58.3 204.5,58.3 205.8,58.3 207.1,58.3 208.4,58.2 209.8,58.2 211.1,58.2 212.4,58.2 213.8,58.2 215.1,58.2 216.4,58.2 217.8,55.5 219.6,46.8 221.3,40.7 223.0,38.1 224.8,35.5 226.5,32.9 228.3,29.4 229.5,25.0 230.9,22.4 232.6,19.8 234.0,19.0 235.2,21.6 237.0,25.9 238.7,31.1 240.4,35.5 241.3,34.6 243.0,32.0 244.8,30.3 247.4,27.7 250.0,25.0 251.7,24.2 253.5,26.8 255.2,25.9 257.0,29.4 258.7,30.3 260.4,31.1 262.2,38.1 263.9,39.0 265.2,41.6 266.9,48.3 268.9,50.3 270.8,43.5 272.7,46.4 274.7,50.3 276.6,49.3 278.5,51.2 280.4,49.3 281.4,53.2 282.8,57.0 285.3,58.0 286.8,56.0 288.2,54.1 289.6,53.8 291.1,52.2 292.6,50.7 294.0,49.3 295.4,49.1 296.9,48.3 298.8,46.4 300.7,48.3 302.6,52.2 304.1,53.0 305.5,55.1 306.9,56.3 308.4,57.0 310.4,54.1 312.3,50.3 313.8,50.5 315.2,49.3 316.6,48.8 318.1,48.3 319.6,49.7 321.0,50.3 322.4,52.1 323.9,53.2 325.4,54.3 326.8,57.0 328.6,57.6 330.5,58.3" fill="none" stroke="#3a3a3a" stroke-width="0.85" stroke-linejoin="round" stroke-linecap="round" opacity="1"/>
<polyline points="226.1,58.5 227.8,61.2 229.6,65.6 231.3,73.4 233.0,82.1 234.8,87.3 236.5,90.8 238.3,92.5 240.0,90.8 241.7,93.4 243.5,89.0 245.2,87.3 247.0,89.9 248.7,87.3 250.4,88.2 253.0,86.4 254.8,87.3 256.5,84.7 258.3,78.6 260.0,71.7 261.7,64.7 263.1,58.5 264.6,58.5 266.0,58.5 267.4,60.6 268.9,61.8 270.4,59.0 271.8,62.8 273.0,65.6 274.3,64.2 275.6,61.8 277.1,63.5 278.5,63.7 280.4,69.5 282.4,83.0 284.3,94.6 285.6,106.5 287.0,106.9 288.4,106.5 290.1,93.6 291.1,80.0 292.0,74.0 294.0,68.6 295.4,68.4 296.9,66.7 298.3,64.9 299.7,64.7 301.1,63.7 302.6,62.8 304.6,61.7 306.5,59.0 308.4,59.9 309.9,62.1 311.3,63.8 312.8,66.0 314.2,66.7 315.6,67.0 317.1,68.6 318.6,69.0 320.0,69.6 321.4,68.1 322.9,67.6 324.4,66.2 325.8,64.7 327.7,61.9 329.1,60.3 330.5,58.5" fill="none" stroke="#3a3a3a" stroke-width="0.85" stroke-linejoin="round" stroke-linecap="round" opacity="1"/>
</g>
<rect x="200.5" y="10.2" width="130.0" height="96.3" fill="none" stroke="#555" stroke-width="0.9"/>
<line x1="302.3" y1="15.6" x2="312.8" y2="15.6" stroke="#7070ff" stroke-width="0.9"/>
<text x="313.90000000000003" y="17.3" font-family='"Liberation Serif", serif' font-size="5.0" font-weight="bold" text-anchor="start" fill="#222" stroke="#222" stroke-width="0.22" >Co-d</text>
<line x1="302.3" y1="21.2" x2="312.8" y2="21.2" stroke="#c070e0" stroke-width="0.9"/>
<text x="313.90000000000003" y="22.95" font-family='"Liberation Serif", serif' font-size="5.0" font-weight="bold" text-anchor="start" fill="#222" stroke="#222" stroke-width="0.22" >Mn-d</text>
<line x1="302.3" y1="26.9" x2="312.8" y2="26.9" stroke="#70f070" stroke-width="0.9"/>
<text x="313.90000000000003" y="28.599999999999998" font-family='"Liberation Serif", serif' font-size="5.0" font-weight="bold" text-anchor="start" fill="#222" stroke="#222" stroke-width="0.22" >Ni-d</text>
<line x1="302.3" y1="32.6" x2="312.8" y2="32.6" stroke="#ff7070" stroke-width="0.9"/>
<text x="313.90000000000003" y="34.25000000000001" font-family='"Liberation Serif", serif' font-size="5.0" font-weight="bold" text-anchor="start" fill="#222" stroke="#222" stroke-width="0.22" >O-p</text>
<line x1="302.3" y1="38.2" x2="312.8" y2="38.2" stroke="#707070" stroke-width="0.9"/>
<text x="313.90000000000003" y="39.900000000000006" font-family='"Liberation Serif", serif' font-size="5.0" font-weight="bold" text-anchor="start" fill="#222" stroke="#222" stroke-width="0.22" >Total</text>
<text x="204.0" y="17.8" font-family='"Liberation Serif", serif' font-size="7.6" font-weight="bold" text-anchor="start" fill="#111" stroke="#111" stroke-width="0.22" >LLO-Na-OV</text>
<line x1="32.7" y1="176.1" x2="159.89999999999998" y2="176.1" stroke="#aaa" stroke-width="0.7" stroke-dasharray="1.2,1.6"/>
<line x1="32.7" y1="200.3" x2="159.89999999999998" y2="200.3" stroke="#aaa" stroke-width="0.7" stroke-dasharray="1.2,1.6"/>
<path d="M42.10,156.05 C42.50,158.62 42.40,157.33 43.30,163.75 C44.21,170.17 43.81,168.88 44.81,175.30 C45.81,181.72 45.41,179.92 46.31,183.00 C47.22,186.08 46.51,185.05 47.52,184.54 C48.52,184.03 48.12,183.64 49.32,181.46 C50.53,179.28 49.96,178.51 51.13,178.00 C52.30,177.48 51.26,175.69 52.83,179.92 C54.40,184.16 53.84,181.97 55.84,190.70 C57.85,199.43 57.01,197.89 58.85,206.10 C60.69,214.31 59.92,211.36 61.36,215.34 C62.80,219.32 61.99,218.03 63.16,218.03 C64.33,218.03 63.63,219.32 64.87,215.34 C66.11,211.36 65.44,211.23 66.88,206.10 C68.31,200.97 67.68,199.94 69.18,199.94 C70.69,199.94 69.98,200.97 71.39,206.10 C72.79,211.23 72.12,211.36 73.39,215.34 C74.66,219.32 74.03,218.03 75.20,218.03 C76.37,218.03 75.33,220.60 76.91,215.34 C78.48,210.08 77.91,211.75 79.91,202.25 C81.92,192.75 81.08,194.55 82.92,186.85 C84.76,179.15 83.99,182.44 85.43,179.15 C86.87,175.86 86.07,177.25 87.24,176.99 C88.41,176.74 87.90,177.40 88.94,178.38 C89.98,179.36 89.34,180.95 90.35,179.92 C91.35,178.89 90.91,180.69 91.95,175.30 C92.99,169.91 92.45,171.45 93.45,163.75 C94.46,156.05 94.02,157.20 94.96,152.20 C95.90,147.19 95.43,148.74 96.26,148.74 C97.10,148.74 96.56,145.91 97.47,152.20 C98.37,158.49 97.80,158.00 98.97,167.60 C100.14,177.20 99.64,176.89 100.98,181.00 C102.31,185.10 101.45,181.25 102.98,179.92 C104.52,178.59 103.92,176.48 105.59,176.99 C107.26,177.51 106.19,175.09 108.00,181.46 C109.80,187.83 109.00,185.82 111.01,196.09 C113.01,206.36 112.34,205.33 114.02,212.26 C115.69,219.19 114.72,214.95 116.02,216.88 C117.33,218.81 116.59,218.81 117.93,218.03 C119.27,217.26 118.66,218.55 120.03,214.57 C121.40,210.59 120.74,210.80 122.04,206.10 C123.34,201.40 122.61,200.48 123.95,200.48 C125.28,200.48 124.68,201.15 126.05,206.10 C127.42,211.05 126.79,211.36 128.06,215.34 C129.33,219.32 128.69,217.52 129.86,218.03 C131.03,218.55 130.16,219.32 131.57,216.88 C132.97,214.44 132.34,216.37 134.08,210.72 C135.81,205.07 135.11,208.15 136.78,199.94 C138.46,191.73 137.45,193.73 139.09,186.08 C140.73,178.43 140.19,178.53 141.70,176.99 C143.20,175.45 142.27,178.56 143.60,181.46 C144.94,184.36 144.54,186.47 145.71,185.69 C146.88,184.92 145.98,185.69 147.12,179.15 C148.25,172.61 147.98,173.12 149.12,166.06 C150.26,159.00 150.06,160.67 150.53,157.97" fill="none" stroke="#ff6464" stroke-width="1.0" stroke-linecap="round"/>
<rect x="31.7" y="136.8" width="130.2" height="92.89999999999998" fill="none" stroke="#6a6a6a" stroke-width="1.0"/>
<line x1="31.7" y1="221.5" x2="33.3" y2="221.5" stroke="#444" stroke-width="0.6"/>
<text x="29.5" y="223.7" font-family='"Liberation Serif", serif' font-size="6.3" font-weight="bold" text-anchor="end" fill="#222" stroke="#222" stroke-width="0.22" >0</text>
<line x1="31.7" y1="206.1" x2="33.3" y2="206.1" stroke="#444" stroke-width="0.6"/>
<text x="29.5" y="208.29999999999998" font-family='"Liberation Serif", serif' font-size="6.3" font-weight="bold" text-anchor="end" fill="#222" stroke="#222" stroke-width="0.22" >20</text>
<line x1="31.7" y1="190.7" x2="33.3" y2="190.7" stroke="#444" stroke-width="0.6"/>
<text x="29.5" y="192.89999999999998" font-family='"Liberation Serif", serif' font-size="6.3" font-weight="bold" text-anchor="end" fill="#222" stroke="#222" stroke-width="0.22" >40</text>
<line x1="31.7" y1="175.3" x2="33.3" y2="175.3" stroke="#444" stroke-width="0.6"/>
<text x="29.5" y="177.5" font-family='"Liberation Serif", serif' font-size="6.3" font-weight="bold" text-anchor="end" fill="#222" stroke="#222" stroke-width="0.22" >60</text>
<line x1="31.7" y1="159.9" x2="33.3" y2="159.9" stroke="#444" stroke-width="0.6"/>
<text x="29.5" y="162.1" font-family='"Liberation Serif", serif' font-size="6.3" font-weight="bold" text-anchor="end" fill="#222" stroke="#222" stroke-width="0.22" >80</text>
<line x1="31.7" y1="144.5" x2="33.3" y2="144.5" stroke="#444" stroke-width="0.6"/>
<text x="29.5" y="146.7" font-family='"Liberation Serif", serif' font-size="6.3" font-weight="bold" text-anchor="end" fill="#222" stroke="#222" stroke-width="0.22" >100</text>
<line x1="41.8" y1="229.7" x2="41.8" y2="228.29999999999998" stroke="#444" stroke-width="0.6"/>
<text x="41.8" y="237.1" font-family='"Liberation Serif", serif' font-size="6.3" font-weight="bold" text-anchor="middle" fill="#222" stroke="#222" stroke-width="0.22" >0</text>
<line x1="51.8" y1="229.7" x2="51.8" y2="228.29999999999998" stroke="#444" stroke-width="0.6"/>
<line x1="61.9" y1="229.7" x2="61.9" y2="228.29999999999998" stroke="#444" stroke-width="0.6"/>
<text x="61.86" y="237.1" font-family='"Liberation Serif", serif' font-size="6.3" font-weight="bold" text-anchor="middle" fill="#222" stroke="#222" stroke-width="0.22" >2</text>
<line x1="71.9" y1="229.7" x2="71.9" y2="228.29999999999998" stroke="#444" stroke-width="0.6"/>
<line x1="81.9" y1="229.7" x2="81.9" y2="228.29999999999998" stroke="#444" stroke-width="0.6"/>
<text x="81.91999999999999" y="237.1" font-family='"Liberation Serif", serif' font-size="6.3" font-weight="bold" text-anchor="middle" fill="#222" stroke="#222" stroke-width="0.22" >4</text>
<line x1="91.9" y1="229.7" x2="91.9" y2="228.29999999999998" stroke="#444" stroke-width="0.6"/>
<line x1="102.0" y1="229.7" x2="102.0" y2="228.29999999999998" stroke="#444" stroke-width="0.6"/>
<text x="101.97999999999999" y="237.1" font-family='"Liberation Serif", serif' font-size="6.3" font-weight="bold" text-anchor="middle" fill="#222" stroke="#222" stroke-width="0.22" >6</text>
<line x1="112.0" y1="229.7" x2="112.0" y2="228.29999999999998" stroke="#444" stroke-width="0.6"/>
<line x1="122.0" y1="229.7" x2="122.0" y2="228.29999999999998" stroke="#444" stroke-width="0.6"/>
<text x="122.03999999999999" y="237.1" font-family='"Liberation Serif", serif' font-size="6.3" font-weight="bold" text-anchor="middle" fill="#222" stroke="#222" stroke-width="0.22" >8</text>
<line x1="132.1" y1="229.7" x2="132.1" y2="228.29999999999998" stroke="#444" stroke-width="0.6"/>
<line x1="142.1" y1="229.7" x2="142.1" y2="228.29999999999998" stroke="#444" stroke-width="0.6"/>
<text x="142.1" y="237.1" font-family='"Liberation Serif", serif' font-size="6.3" font-weight="bold" text-anchor="middle" fill="#222" stroke="#222" stroke-width="0.22" >10</text>
<line x1="152.1" y1="229.7" x2="152.1" y2="228.29999999999998" stroke="#444" stroke-width="0.6"/>
<line x1="162.2" y1="229.7" x2="162.2" y2="228.29999999999998" stroke="#444" stroke-width="0.6"/>
<text x="162.15999999999997" y="237.1" font-family='"Liberation Serif", serif' font-size="6.3" font-weight="bold" text-anchor="middle" fill="#222" stroke="#222" stroke-width="0.22" >12</text>
<text x="0" y="0" transform="translate(93.0,246.8) scale(1,1.14)" font-family='"Liberation Serif", serif' font-size="6.8" font-weight="bold" text-anchor="middle" fill="#222" stroke="#222" stroke-width="0.22" >Points along <tspan font-style="italic">z</tspan> directions</text>
<text x="0" y="0" font-family='"Liberation Serif", serif' font-size="6.8" font-weight="bold" fill="#222" stroke="#222" stroke-width="0.22" text-anchor="middle" transform="translate(14.3,190.2) rotate(-90)">Averaged Charge Density</text>
<text x="36.7" y="145.3" font-family='"Liberation Serif", serif' font-size="7.25" font-weight="bold" fill="#222" stroke="#222" stroke-width="0.22"><tspan>Li</tspan><tspan font-size="5.1" dy="1.6">19</tspan><tspan dy="-1.6">Ni</tspan><tspan font-size="5.1" dy="1.6">2</tspan><tspan dy="-1.6">Co</tspan><tspan font-size="5.1" dy="1.6">2</tspan><tspan dy="-1.6">Mn</tspan><tspan font-size="5.1" dy="1.6">9</tspan><tspan dy="-1.6">O</tspan><tspan font-size="5.1" dy="1.6">32</tspan></text>
<text x="65.69999999999999" y="153.6" font-family='"Liberation Serif", serif' font-size="7.85" font-weight="bold" text-anchor="middle" fill="#222" stroke="#222" stroke-width="0.22" >Pristine-LLO</text>
<text x="0" y="0" transform="translate(58.2,196.2) scale(1,1.17)" font-family='"Liberation Serif", serif' font-size="6.6" font-weight="bold" text-anchor="start" fill="#222" stroke="#222" stroke-width="0.22" >Li layer</text>
<text x="0" y="0" transform="translate(102.8,172.1) scale(1,1.2)" font-family='"Liberation Serif", serif' font-size="6.6" font-weight="bold" text-anchor="start" fill="#222" stroke="#222" stroke-width="0.22" >O layer</text>
<line x1="200.8" y1="176.1" x2="328.0" y2="176.1" stroke="#aaa" stroke-width="0.7" stroke-dasharray="1.2,1.6"/>
<line x1="200.8" y1="200.3" x2="328.0" y2="200.3" stroke="#aaa" stroke-width="0.7" stroke-dasharray="1.2,1.6"/>
<path d="M209.90,156.05 C210.40,159.39 210.40,159.13 211.40,166.06 C212.41,172.99 211.91,170.94 212.91,176.84 C213.91,182.74 213.41,181.20 214.41,183.77 C215.42,186.34 214.75,185.57 215.92,184.54 C217.09,183.51 216.65,183.00 217.92,180.69 C219.19,178.38 218.56,177.87 219.73,177.61 C220.90,177.35 220.03,175.56 221.43,179.92 C222.84,184.28 222.10,181.97 223.94,190.70 C225.78,199.43 225.11,197.89 226.95,206.10 C228.79,214.31 228.02,211.49 229.46,215.34 C230.90,219.19 230.09,217.65 231.26,217.65 C232.43,217.65 231.73,219.19 232.97,215.34 C234.21,211.49 233.54,212.26 234.97,206.10 C236.41,199.94 235.78,197.37 237.28,196.86 C238.79,196.35 238.08,198.66 239.49,204.56 C240.89,210.46 240.22,210.21 241.49,214.57 C242.76,218.93 242.13,217.65 243.30,217.65 C244.47,217.65 243.43,219.96 245.00,214.57 C246.58,209.18 246.01,210.98 248.01,201.48 C250.02,191.98 249.18,194.04 251.02,186.08 C252.86,178.12 252.03,180.69 253.53,177.61 C255.03,174.53 254.37,176.58 255.54,176.84 C256.71,177.10 256.07,177.35 257.04,178.38 C258.01,179.41 257.44,181.46 258.45,179.92 C259.45,178.38 259.01,179.92 260.05,173.76 C261.09,167.60 260.55,169.14 261.55,161.44 C262.56,153.74 262.12,155.02 263.06,150.66 C264.00,146.30 263.53,147.84 264.36,148.35 C265.20,148.86 264.66,145.78 265.57,152.20 C266.47,158.62 265.90,157.23 267.07,167.60 C268.24,177.97 267.91,178.30 269.08,183.31 C270.25,188.31 269.51,183.23 270.58,182.62 C271.65,182.00 270.95,180.31 272.29,181.46 C273.62,182.62 272.65,179.92 274.59,186.08 C276.53,192.24 275.93,191.21 278.10,199.94 C280.28,208.67 279.27,206.36 281.11,212.26 C282.95,218.16 282.12,215.72 283.62,217.65 C285.12,219.58 284.29,219.32 285.63,218.03 C286.96,216.75 286.30,218.29 287.63,213.80 C288.97,209.31 288.30,209.18 289.64,204.56 C290.98,199.94 290.31,199.43 291.64,199.94 C292.98,200.45 292.31,200.97 293.65,206.10 C294.99,211.23 294.32,211.36 295.66,215.34 C296.99,219.32 296.33,218.03 297.66,218.03 C299.00,218.03 298.16,220.60 299.67,215.34 C301.17,210.08 300.34,212.52 302.18,202.25 C304.01,191.98 303.35,192.50 305.19,184.54 C307.02,176.58 306.25,180.69 307.69,178.38 C309.13,176.07 308.33,176.58 309.50,177.61 C310.67,178.64 309.80,178.77 311.20,181.46 C312.61,184.16 312.37,186.72 313.71,185.69 C315.05,184.67 314.04,184.92 315.22,178.38 C316.39,171.84 316.08,172.86 317.22,166.06 C318.36,159.26 318.16,160.67 318.63,157.97" fill="none" stroke="#ff6464" stroke-width="1.0" stroke-linecap="round"/>
<rect x="199.8" y="136.8" width="130.2" height="92.89999999999998" fill="none" stroke="#6a6a6a" stroke-width="1.0"/>
<line x1="199.8" y1="221.5" x2="201.4" y2="221.5" stroke="#444" stroke-width="0.6"/>
<text x="197.60000000000002" y="223.7" font-family='"Liberation Serif", serif' font-size="6.3" font-weight="bold" text-anchor="end" fill="#222" stroke="#222" stroke-width="0.22" >0</text>
<line x1="199.8" y1="206.1" x2="201.4" y2="206.1" stroke="#444" stroke-width="0.6"/>
<text x="197.60000000000002" y="208.29999999999998" font-family='"Liberation Serif", serif' font-size="6.3" font-weight="bold" text-anchor="end" fill="#222" stroke="#222" stroke-width="0.22" >20</text>
<line x1="199.8" y1="190.7" x2="201.4" y2="190.7" stroke="#444" stroke-width="0.6"/>
<text x="197.60000000000002" y="192.89999999999998" font-family='"Liberation Serif", serif' font-size="6.3" font-weight="bold" text-anchor="end" fill="#222" stroke="#222" stroke-width="0.22" >40</text>
<line x1="199.8" y1="175.3" x2="201.4" y2="175.3" stroke="#444" stroke-width="0.6"/>
<text x="197.60000000000002" y="177.5" font-family='"Liberation Serif", serif' font-size="6.3" font-weight="bold" text-anchor="end" fill="#222" stroke="#222" stroke-width="0.22" >60</text>
<line x1="199.8" y1="159.9" x2="201.4" y2="159.9" stroke="#444" stroke-width="0.6"/>
<text x="197.60000000000002" y="162.1" font-family='"Liberation Serif", serif' font-size="6.3" font-weight="bold" text-anchor="end" fill="#222" stroke="#222" stroke-width="0.22" >80</text>
<line x1="199.8" y1="144.5" x2="201.4" y2="144.5" stroke="#444" stroke-width="0.6"/>
<text x="197.60000000000002" y="146.7" font-family='"Liberation Serif", serif' font-size="6.3" font-weight="bold" text-anchor="end" fill="#222" stroke="#222" stroke-width="0.22" >100</text>
<line x1="209.9" y1="229.7" x2="209.9" y2="228.29999999999998" stroke="#444" stroke-width="0.6"/>
<text x="209.9" y="237.1" font-family='"Liberation Serif", serif' font-size="6.3" font-weight="bold" text-anchor="middle" fill="#222" stroke="#222" stroke-width="0.22" >0</text>
<line x1="219.9" y1="229.7" x2="219.9" y2="228.29999999999998" stroke="#444" stroke-width="0.6"/>
<line x1="230.0" y1="229.7" x2="230.0" y2="228.29999999999998" stroke="#444" stroke-width="0.6"/>
<text x="229.96" y="237.1" font-family='"Liberation Serif", serif' font-size="6.3" font-weight="bold" text-anchor="middle" fill="#222" stroke="#222" stroke-width="0.22" >2</text>
<line x1="240.0" y1="229.7" x2="240.0" y2="228.29999999999998" stroke="#444" stroke-width="0.6"/>
<line x1="250.0" y1="229.7" x2="250.0" y2="228.29999999999998" stroke="#444" stroke-width="0.6"/>
<text x="250.02" y="237.1" font-family='"Liberation Serif", serif' font-size="6.3" font-weight="bold" text-anchor="middle" fill="#222" stroke="#222" stroke-width="0.22" >4</text>
<line x1="260.1" y1="229.7" x2="260.1" y2="228.29999999999998" stroke="#444" stroke-width="0.6"/>
<line x1="270.1" y1="229.7" x2="270.1" y2="228.29999999999998" stroke="#444" stroke-width="0.6"/>
<text x="270.08" y="237.1" font-family='"Liberation Serif", serif' font-size="6.3" font-weight="bold" text-anchor="middle" fill="#222" stroke="#222" stroke-width="0.22" >6</text>
<line x1="280.1" y1="229.7" x2="280.1" y2="228.29999999999998" stroke="#444" stroke-width="0.6"/>
<line x1="290.1" y1="229.7" x2="290.1" y2="228.29999999999998" stroke="#444" stroke-width="0.6"/>
<text x="290.14" y="237.1" font-family='"Liberation Serif", serif' font-size="6.3" font-weight="bold" text-anchor="middle" fill="#222" stroke="#222" stroke-width="0.22" >8</text>
<line x1="300.2" y1="229.7" x2="300.2" y2="228.29999999999998" stroke="#444" stroke-width="0.6"/>
<line x1="310.2" y1="229.7" x2="310.2" y2="228.29999999999998" stroke="#444" stroke-width="0.6"/>
<text x="310.2" y="237.1" font-family='"Liberation Serif", serif' font-size="6.3" font-weight="bold" text-anchor="middle" fill="#222" stroke="#222" stroke-width="0.22" >10</text>
<line x1="320.2" y1="229.7" x2="320.2" y2="228.29999999999998" stroke="#444" stroke-width="0.6"/>
<line x1="330.3" y1="229.7" x2="330.3" y2="228.29999999999998" stroke="#444" stroke-width="0.6"/>
<text x="330.26" y="237.1" font-family='"Liberation Serif", serif' font-size="6.3" font-weight="bold" text-anchor="middle" fill="#222" stroke="#222" stroke-width="0.22" >12</text>
<text x="0" y="0" transform="translate(262.4,246.8) scale(1,1.14)" font-family='"Liberation Serif", serif' font-size="6.8" font-weight="bold" text-anchor="middle" fill="#222" stroke="#222" stroke-width="0.22" >Points along <tspan font-style="italic">z</tspan> directions</text>
<text x="0" y="0" font-family='"Liberation Serif", serif' font-size="6.8" font-weight="bold" fill="#222" stroke="#222" stroke-width="0.22" text-anchor="middle" transform="translate(182.4,190.2) rotate(-90)">Averaged Charge Density</text>
<text x="203.7" y="145.3" font-family='"Liberation Serif", serif' font-size="7.3" font-weight="bold" fill="#222" stroke="#222" stroke-width="0.22"><tspan>Li</tspan><tspan font-size="5.1" dy="1.6">18</tspan><tspan dy="-1.6">Na</tspan><tspan font-size="5.1" dy="1.6">1</tspan><tspan dy="-1.6">Ni</tspan><tspan font-size="5.1" dy="1.6">2</tspan><tspan dy="-1.6">Co</tspan><tspan font-size="5.1" dy="1.6">2</tspan><tspan dy="-1.6">Mn</tspan><tspan font-size="5.1" dy="1.6">9</tspan><tspan dy="-1.6">O</tspan><tspan font-size="5.1" dy="1.6">31</tspan></text>
<text x="238.3" y="153.6" font-family='"Liberation Serif", serif' font-size="7.3" font-weight="bold" text-anchor="middle" fill="#222" stroke="#222" stroke-width="0.22" >LLO-Na-OV</text>
<text x="0" y="0" transform="translate(218.8,195) scale(1,1.17)" font-family='"Liberation Serif", serif' font-size="6.8" font-weight="bold" text-anchor="start" fill="#222" stroke="#222" stroke-width="0.22" >Li layer (Na)</text>
<text x="0" y="0" transform="translate(270.2,177) scale(1,1.2)" font-family='"Liberation Serif", serif' font-size="6.8" font-weight="bold" text-anchor="start" fill="#222" stroke="#222" stroke-width="0.22" >OV</text>
<text x="366.3" y="19.0" font-family='"Liberation Serif", serif' font-size="9.1" font-weight="bold" fill="#222" stroke="#222" stroke-width="0.22"><tspan>Li</tspan><tspan font-size="6.6" dy="1.6">19</tspan><tspan dy="-1.6">Ni</tspan><tspan font-size="6.6" dy="1.6">2</tspan><tspan dy="-1.6">Co</tspan><tspan font-size="6.6" dy="1.6">2</tspan><tspan dy="-1.6">Mn</tspan><tspan font-size="6.6" dy="1.6">9</tspan><tspan dy="-1.6">O</tspan><tspan font-size="6.6" dy="1.6">32</tspan></text>
<text x="404.6" y="29.7" font-family='"Liberation Serif", serif' font-size="7.7" font-weight="bold" text-anchor="middle" fill="#222" stroke="#222" stroke-width="0.22" >Pristine-LLO</text>
<text x="453.9" y="19.0" font-family='"Liberation Serif", serif' font-size="9.1" font-weight="bold" fill="#222" stroke="#222" stroke-width="0.22"><tspan>Li</tspan><tspan font-size="6.6" dy="1.6">18</tspan><tspan dy="-1.6">Na</tspan><tspan font-size="6.6" dy="1.6">1</tspan><tspan dy="-1.6">Ni</tspan><tspan font-size="6.6" dy="1.6">2</tspan><tspan dy="-1.6">Co</tspan><tspan font-size="6.6" dy="1.6">2</tspan><tspan dy="-1.6">Mn</tspan><tspan font-size="6.6" dy="1.6">9</tspan><tspan dy="-1.6">O</tspan><tspan font-size="6.6" dy="1.6">31</tspan></text>
<text x="0" y="0" transform="translate(496.8,29.2) scale(1,0.95)" font-family='"Liberation Serif", serif' font-size="7.7" font-weight="bold" text-anchor="middle" fill="#222" stroke="#222" stroke-width="0.22" >LLO-Na-OV</text>
<line x1="384.5" y1="44.2" x2="384.5" y2="115.9" stroke="#bbb" stroke-width="0.4"/>
<line x1="425.8" y1="44.2" x2="425.8" y2="115.9" stroke="#bbb" stroke-width="0.4"/>
<rect x="389.1" y="43.7" width="12.0" height="3.6" rx="1.8" fill="#1cc4e4"/>
<rect x="409.1" y="43.7" width="12.4" height="3.6" rx="1.8" fill="#1cc4e4"/>
<ellipse cx="384.5" cy="53.3" rx="2.0" ry="3.0" fill="#e8b000"/>
<ellipse cx="384.5" cy="53.3" rx="1.3" ry="2.4" fill="#f4ec18"/>
<ellipse cx="384.5" cy="53.3" rx="0.7" ry="1.3" fill="#f04010"/>
<ellipse cx="393.7" cy="53.3" rx="4.2" ry="3.3" fill="#e8b000"/>
<ellipse cx="393.7" cy="53.3" rx="3.5" ry="2.7" fill="#f4ec18"/>
<ellipse cx="393.7" cy="53.3" rx="1.9" ry="1.5" fill="#f04010"/>
<ellipse cx="404.8" cy="53.3" rx="3.8" ry="3.3" fill="#e8b000"/>
<ellipse cx="404.8" cy="53.3" rx="3.1" ry="2.7" fill="#f4ec18"/>
<ellipse cx="404.8" cy="53.3" rx="1.7" ry="1.5" fill="#f04010"/>
<ellipse cx="416.6" cy="53.3" rx="4.2" ry="3.3" fill="#e8b000"/>
<ellipse cx="416.6" cy="53.3" rx="3.5" ry="2.7" fill="#f4ec18"/>
<ellipse cx="416.6" cy="53.3" rx="1.9" ry="1.5" fill="#f04010"/>
<ellipse cx="425.8" cy="53.3" rx="2.0" ry="3.0" fill="#e8b000"/>
<ellipse cx="425.8" cy="53.3" rx="1.3" ry="2.4" fill="#f4ec18"/>
<ellipse cx="425.8" cy="53.3" rx="0.7" ry="1.3" fill="#f04010"/>
<line x1="384.5" y1="44.2" x2="380.2" y2="40.9" stroke="#9020b0" stroke-width="1.2"/>
<line x1="380.2" y1="40.9" x2="375.9" y2="37.5" stroke="#e01010" stroke-width="1.2"/>
<line x1="384.5" y1="44.2" x2="380.2" y2="47.6" stroke="#9020b0" stroke-width="1.2"/>
<line x1="380.2" y1="47.6" x2="375.9" y2="50.9" stroke="#e01010" stroke-width="1.2"/>
<line x1="384.5" y1="44.2" x2="384.5" y2="40.9" stroke="#9020b0" stroke-width="1.2"/>
<line x1="384.5" y1="40.9" x2="384.5" y2="37.5" stroke="#e01010" stroke-width="1.2"/>
<line x1="384.5" y1="44.2" x2="384.5" y2="47.6" stroke="#9020b0" stroke-width="1.2"/>
<line x1="384.5" y1="47.6" x2="384.5" y2="50.9" stroke="#e01010" stroke-width="1.2"/>
<line x1="384.5" y1="44.2" x2="389.1" y2="40.9" stroke="#9020b0" stroke-width="1.2"/>
<line x1="389.1" y1="40.9" x2="393.7" y2="37.5" stroke="#e01010" stroke-width="1.2"/>
<line x1="384.5" y1="44.2" x2="389.1" y2="47.6" stroke="#9020b0" stroke-width="1.2"/>
<line x1="389.1" y1="47.6" x2="393.7" y2="50.9" stroke="#e01010" stroke-width="1.2"/>
<line x1="395.0" y1="44.2" x2="394.4" y2="40.9" stroke="#1818c0" stroke-width="1.2"/>
<line x1="394.4" y1="40.9" x2="393.7" y2="37.5" stroke="#e01010" stroke-width="1.2"/>
<line x1="395.0" y1="44.2" x2="394.4" y2="47.6" stroke="#1818c0" stroke-width="1.2"/>
<line x1="394.4" y1="47.6" x2="393.7" y2="50.9" stroke="#e01010" stroke-width="1.2"/>
<line x1="395.0" y1="44.2" x2="399.9" y2="40.9" stroke="#1818c0" stroke-width="1.2"/>
<line x1="399.9" y1="40.9" x2="404.8" y2="37.5" stroke="#e01010" stroke-width="1.2"/>
<line x1="395.0" y1="44.2" x2="399.9" y2="47.6" stroke="#1818c0" stroke-width="1.2"/>
<line x1="399.9" y1="47.6" x2="404.8" y2="50.9" stroke="#e01010" stroke-width="1.2"/>
<line x1="405.5" y1="44.2" x2="404.8" y2="37.5" stroke="#e01010" stroke-width="0.8"/>
<line x1="415.3" y1="44.2" x2="415.9" y2="40.9" stroke="#9020b0" stroke-width="1.2"/>
<line x1="415.9" y1="40.9" x2="416.6" y2="37.5" stroke="#e01010" stroke-width="1.2"/>
<line x1="415.3" y1="44.2" x2="415.9" y2="47.6" stroke="#9020b0" stroke-width="1.2"/>
<line x1="415.9" y1="47.6" x2="416.6" y2="50.9" stroke="#e01010" stroke-width="1.2"/>
<line x1="425.8" y1="44.2" x2="421.2" y2="40.9" stroke="#9020b0" stroke-width="1.2"/>
<line x1="421.2" y1="40.9" x2="416.6" y2="37.5" stroke="#e01010" stroke-width="1.2"/>
<line x1="425.8" y1="44.2" x2="421.2" y2="47.6" stroke="#9020b0" stroke-width="1.2"/>
<line x1="421.2" y1="47.6" x2="416.6" y2="50.9" stroke="#e01010" stroke-width="1.2"/>
<line x1="425.8" y1="44.2" x2="425.8" y2="40.9" stroke="#9020b0" stroke-width="1.2"/>
<line x1="425.8" y1="40.9" x2="425.8" y2="37.5" stroke="#e01010" stroke-width="1.2"/>
<line x1="425.8" y1="44.2" x2="425.8" y2="47.6" stroke="#9020b0" stroke-width="1.2"/>
<line x1="425.8" y1="47.6" x2="425.8" y2="50.9" stroke="#e01010" stroke-width="1.2"/>
<line x1="425.8" y1="44.2" x2="430.4" y2="40.9" stroke="#9020b0" stroke-width="1.2"/>
<line x1="430.4" y1="40.9" x2="435.0" y2="37.5" stroke="#e01010" stroke-width="1.2"/>
<line x1="425.8" y1="44.2" x2="430.4" y2="47.6" stroke="#9020b0" stroke-width="1.2"/>
<line x1="430.4" y1="47.6" x2="435.0" y2="50.9" stroke="#e01010" stroke-width="1.2"/>
<circle cx="375.9" cy="37.5" r="2.3" fill="url(#gO)"/>
<circle cx="375.9" cy="50.9" r="2.3" fill="url(#gO)"/>
<circle cx="384.5" cy="37.5" r="2.3" fill="url(#gO)"/>
<circle cx="384.5" cy="50.9" r="2.3" fill="url(#gO)"/>
<circle cx="393.7" cy="37.5" r="2.3" fill="url(#gO)"/>
<circle cx="393.7" cy="50.9" r="2.3" fill="url(#gO)"/>
<circle cx="404.8" cy="37.5" r="2.3" fill="url(#gO)"/>
<circle cx="404.8" cy="50.9" r="2.3" fill="url(#gO)"/>
<circle cx="416.6" cy="37.5" r="2.3" fill="url(#gO)"/>
<circle cx="416.6" cy="50.9" r="2.3" fill="url(#gO)"/>
<circle cx="425.8" cy="37.5" r="2.3" fill="url(#gO)"/>
<circle cx="425.8" cy="50.9" r="2.3" fill="url(#gO)"/>
<circle cx="435.0" cy="37.5" r="2.3" fill="url(#gO)"/>
<circle cx="435.0" cy="50.9" r="2.3" fill="url(#gO)"/>
<circle cx="384.5" cy="44.2" r="3.0" fill="url(#gMn)"/>
<circle cx="395.0" cy="44.2" r="2.6" fill="url(#gCo)"/>
<circle cx="405.5" cy="44.2" r="3.8" fill="url(#gLi)"/>
<circle cx="415.3" cy="44.2" r="3.0" fill="url(#gMn)"/>
<circle cx="425.8" cy="44.2" r="3.0" fill="url(#gMn)"/>
<rect x="389.1" y="78.2" width="12.0" height="4.6" rx="1.8" fill="#1cc4e4"/>
<rect x="409.1" y="78.2" width="12.4" height="4.6" rx="1.8" fill="#1cc4e4"/>
<ellipse cx="384.5" cy="89.6" rx="2.3" ry="3.2" fill="#e8b000"/>
<ellipse cx="384.5" cy="89.6" rx="1.6" ry="2.6" fill="#f4ec18"/>
<ellipse cx="384.5" cy="89.6" rx="0.9" ry="1.4" fill="#f04010"/>
<ellipse cx="393.7" cy="89.6" rx="5.0" ry="3.5" fill="#e8b000"/>
<ellipse cx="393.7" cy="89.6" rx="4.3" ry="2.9" fill="#f4ec18"/>
<ellipse cx="393.7" cy="89.6" rx="2.4" ry="1.6" fill="#f04010"/>
<ellipse cx="404.8" cy="89.6" rx="4.5" ry="3.5" fill="#e8b000"/>
<ellipse cx="404.8" cy="89.6" rx="3.8" ry="2.9" fill="#f4ec18"/>
<ellipse cx="404.8" cy="89.6" rx="2.1" ry="1.6" fill="#f04010"/>
<ellipse cx="416.6" cy="89.6" rx="5.0" ry="3.5" fill="#e8b000"/>
<ellipse cx="416.6" cy="89.6" rx="4.3" ry="2.9" fill="#f4ec18"/>
<ellipse cx="416.6" cy="89.6" rx="2.4" ry="1.6" fill="#f04010"/>
<ellipse cx="425.8" cy="89.6" rx="2.3" ry="3.2" fill="#e8b000"/>
<ellipse cx="425.8" cy="89.6" rx="1.6" ry="2.6" fill="#f4ec18"/>
<ellipse cx="425.8" cy="89.6" rx="0.9" ry="1.4" fill="#f04010"/>
<ellipse cx="384.5" cy="71.4" rx="2.3" ry="3.2" fill="#e8b000"/>
<ellipse cx="384.5" cy="71.4" rx="1.6" ry="2.6" fill="#f4ec18"/>
<ellipse cx="384.5" cy="71.4" rx="0.9" ry="1.4" fill="#f04010"/>
<ellipse cx="393.7" cy="71.4" rx="5.0" ry="3.5" fill="#e8b000"/>
<ellipse cx="393.7" cy="71.4" rx="4.3" ry="2.9" fill="#f4ec18"/>
<ellipse cx="393.7" cy="71.4" rx="2.4" ry="1.6" fill="#f04010"/>
<ellipse cx="404.8" cy="71.4" rx="4.5" ry="3.5" fill="#e8b000"/>
<ellipse cx="404.8" cy="71.4" rx="3.8" ry="2.9" fill="#f4ec18"/>
<ellipse cx="404.8" cy="71.4" rx="2.1" ry="1.6" fill="#f04010"/>
<ellipse cx="416.6" cy="71.4" rx="5.0" ry="3.5" fill="#e8b000"/>
<ellipse cx="416.6" cy="71.4" rx="4.3" ry="2.9" fill="#f4ec18"/>
<ellipse cx="416.6" cy="71.4" rx="2.4" ry="1.6" fill="#f04010"/>
<ellipse cx="425.8" cy="71.4" rx="2.3" ry="3.2" fill="#e8b000"/>
<ellipse cx="425.8" cy="71.4" rx="1.6" ry="2.6" fill="#f4ec18"/>
<ellipse cx="425.8" cy="71.4" rx="0.9" ry="1.4" fill="#f04010"/>
<line x1="384.5" y1="80.5" x2="380.2" y2="77.2" stroke="#9020b0" stroke-width="1.2"/>
<line x1="380.2" y1="77.2" x2="375.9" y2="73.8" stroke="#e01010" stroke-width="1.2"/>
<line x1="384.5" y1="80.5" x2="380.2" y2="83.8" stroke="#9020b0" stroke-width="1.2"/>
<line x1="380.2" y1="83.8" x2="375.9" y2="87.2" stroke="#e01010" stroke-width="1.2"/>
<line x1="384.5" y1="80.5" x2="384.5" y2="77.2" stroke="#9020b0" stroke-width="1.2"/>
<line x1="384.5" y1="77.2" x2="384.5" y2="73.8" stroke="#e01010" stroke-width="1.2"/>
<line x1="384.5" y1="80.5" x2="384.5" y2="83.8" stroke="#9020b0" stroke-width="1.2"/>
<line x1="384.5" y1="83.8" x2="384.5" y2="87.2" stroke="#e01010" stroke-width="1.2"/>
<line x1="384.5" y1="80.5" x2="389.1" y2="77.2" stroke="#9020b0" stroke-width="1.2"/>
<line x1="389.1" y1="77.2" x2="393.7" y2="73.8" stroke="#e01010" stroke-width="1.2"/>
<line x1="384.5" y1="80.5" x2="389.1" y2="83.8" stroke="#9020b0" stroke-width="1.2"/>
<line x1="389.1" y1="83.8" x2="393.7" y2="87.2" stroke="#e01010" stroke-width="1.2"/>
<line x1="395.0" y1="80.5" x2="394.4" y2="77.2" stroke="#9020b0" stroke-width="1.2"/>
<line x1="394.4" y1="77.2" x2="393.7" y2="73.8" stroke="#e01010" stroke-width="1.2"/>
<line x1="395.0" y1="80.5" x2="394.4" y2="83.8" stroke="#9020b0" stroke-width="1.2"/>
<line x1="394.4" y1="83.8" x2="393.7" y2="87.2" stroke="#e01010" stroke-width="1.2"/>
<line x1="395.0" y1="80.5" x2="399.9" y2="77.2" stroke="#9020b0" stroke-width="1.2"/>
<line x1="399.9" y1="77.2" x2="404.8" y2="73.8" stroke="#e01010" stroke-width="1.2"/>
<line x1="395.0" y1="80.5" x2="399.9" y2="83.8" stroke="#9020b0" stroke-width="1.2"/>
<line x1="399.9" y1="83.8" x2="404.8" y2="87.2" stroke="#e01010" stroke-width="1.2"/>
<line x1="405.5" y1="80.5" x2="405.1" y2="77.2" stroke="#9020b0" stroke-width="1.2"/>
<line x1="405.1" y1="77.2" x2="404.8" y2="73.8" stroke="#e01010" stroke-width="1.2"/>
<line x1="405.5" y1="80.5" x2="405.1" y2="83.8" stroke="#9020b0" stroke-width="1.2"/>
<line x1="405.1" y1="83.8" x2="404.8" y2="87.2" stroke="#e01010" stroke-width="1.2"/>
<line x1="415.3" y1="80.5" x2="415.9" y2="77.2" stroke="#1818c0" stroke-width="1.2"/>
<line x1="415.9" y1="77.2" x2="416.6" y2="73.8" stroke="#e01010" stroke-width="1.2"/>
<line x1="415.3" y1="80.5" x2="415.9" y2="83.8" stroke="#1818c0" stroke-width="1.2"/>
<line x1="415.9" y1="83.8" x2="416.6" y2="87.2" stroke="#e01010" stroke-width="1.2"/>
<line x1="425.8" y1="80.5" x2="421.2" y2="77.2" stroke="#9020b0" stroke-width="1.2"/>
<line x1="421.2" y1="77.2" x2="416.6" y2="73.8" stroke="#e01010" stroke-width="1.2"/>
<line x1="425.8" y1="80.5" x2="421.2" y2="83.8" stroke="#9020b0" stroke-width="1.2"/>
<line x1="421.2" y1="83.8" x2="416.6" y2="87.2" stroke="#e01010" stroke-width="1.2"/>
<line x1="425.8" y1="80.5" x2="425.8" y2="77.2" stroke="#9020b0" stroke-width="1.2"/>
<line x1="425.8" y1="77.2" x2="425.8" y2="73.8" stroke="#e01010" stroke-width="1.2"/>
<line x1="425.8" y1="80.5" x2="425.8" y2="83.8" stroke="#9020b0" stroke-width="1.2"/>
<line x1="425.8" y1="83.8" x2="425.8" y2="87.2" stroke="#e01010" stroke-width="1.2"/>
<line x1="425.8" y1="80.5" x2="430.4" y2="77.2" stroke="#9020b0" stroke-width="1.2"/>
<line x1="430.4" y1="77.2" x2="435.0" y2="73.8" stroke="#e01010" stroke-width="1.2"/>
<line x1="425.8" y1="80.5" x2="430.4" y2="83.8" stroke="#9020b0" stroke-width="1.2"/>
<line x1="430.4" y1="83.8" x2="435.0" y2="87.2" stroke="#e01010" stroke-width="1.2"/>
<circle cx="375.9" cy="73.8" r="2.3" fill="url(#gO)"/>
<circle cx="375.9" cy="87.2" r="2.3" fill="url(#gO)"/>
<circle cx="384.5" cy="73.8" r="2.3" fill="url(#gO)"/>
<circle cx="384.5" cy="87.2" r="2.3" fill="url(#gO)"/>
<circle cx="393.7" cy="73.8" r="2.3" fill="url(#gO)"/>
<circle cx="393.7" cy="87.2" r="2.3" fill="url(#gO)"/>
<circle cx="404.8" cy="73.8" r="2.3" fill="url(#gO)"/>
<circle cx="404.8" cy="87.2" r="2.3" fill="url(#gO)"/>
<circle cx="416.6" cy="73.8" r="2.3" fill="url(#gO)"/>
<circle cx="416.6" cy="87.2" r="2.3" fill="url(#gO)"/>
<circle cx="425.8" cy="73.8" r="2.3" fill="url(#gO)"/>
<circle cx="425.8" cy="87.2" r="2.3" fill="url(#gO)"/>
<circle cx="435.0" cy="73.8" r="2.3" fill="url(#gO)"/>
<circle cx="435.0" cy="87.2" r="2.3" fill="url(#gO)"/>
<circle cx="384.5" cy="80.5" r="3.0" fill="url(#gMn)"/>
<circle cx="395.0" cy="80.5" r="3.0" fill="url(#gMn)"/>
<circle cx="405.5" cy="80.5" r="3.0" fill="url(#gMn)"/>
<circle cx="415.3" cy="80.5" r="2.6" fill="url(#gCo)"/>
<circle cx="425.8" cy="80.5" r="3.0" fill="url(#gMn)"/>
<rect x="389.1" y="112.8" width="12.0" height="3.6" rx="1.8" fill="#1cc4e4"/>
<rect x="409.1" y="112.8" width="12.4" height="3.6" rx="1.8" fill="#1cc4e4"/>
<ellipse cx="384.5" cy="106.8" rx="2.0" ry="3.0" fill="#e8b000"/>
<ellipse cx="384.5" cy="106.8" rx="1.3" ry="2.4" fill="#f4ec18"/>
<ellipse cx="384.5" cy="106.8" rx="0.7" ry="1.3" fill="#f04010"/>
<ellipse cx="393.7" cy="106.8" rx="4.2" ry="3.3" fill="#e8b000"/>
<ellipse cx="393.7" cy="106.8" rx="3.5" ry="2.7" fill="#f4ec18"/>
<ellipse cx="393.7" cy="106.8" rx="1.9" ry="1.5" fill="#f04010"/>
<ellipse cx="404.8" cy="106.8" rx="3.8" ry="3.3" fill="#e8b000"/>
<ellipse cx="404.8" cy="106.8" rx="3.1" ry="2.7" fill="#f4ec18"/>
<ellipse cx="404.8" cy="106.8" rx="1.7" ry="1.5" fill="#f04010"/>
<ellipse cx="416.6" cy="106.8" rx="4.2" ry="3.3" fill="#e8b000"/>
<ellipse cx="416.6" cy="106.8" rx="3.5" ry="2.7" fill="#f4ec18"/>
<ellipse cx="416.6" cy="106.8" rx="1.9" ry="1.5" fill="#f04010"/>
<ellipse cx="425.8" cy="106.8" rx="2.0" ry="3.0" fill="#e8b000"/>
<ellipse cx="425.8" cy="106.8" rx="1.3" ry="2.4" fill="#f4ec18"/>
<ellipse cx="425.8" cy="106.8" rx="0.7" ry="1.3" fill="#f04010"/>
<line x1="384.5" y1="115.9" x2="380.2" y2="112.6" stroke="#9020b0" stroke-width="1.2"/>
<line x1="380.2" y1="112.6" x2="375.9" y2="109.2" stroke="#e01010" stroke-width="1.2"/>
<line x1="384.5" y1="115.9" x2="380.2" y2="119.2" stroke="#9020b0" stroke-width="1.2"/>
<line x1="380.2" y1="119.2" x2="375.9" y2="122.6" stroke="#e01010" stroke-width="1.2"/>
<line x1="384.5" y1="115.9" x2="384.5" y2="112.6" stroke="#9020b0" stroke-width="1.2"/>
<line x1="384.5" y1="112.6" x2="384.5" y2="109.2" stroke="#e01010" stroke-width="1.2"/>
<line x1="384.5" y1="115.9" x2="384.5" y2="119.2" stroke="#9020b0" stroke-width="1.2"/>
<line x1="384.5" y1="119.2" x2="384.5" y2="122.6" stroke="#e01010" stroke-width="1.2"/>
<line x1="384.5" y1="115.9" x2="389.1" y2="112.6" stroke="#9020b0" stroke-width="1.2"/>
<line x1="389.1" y1="112.6" x2="393.7" y2="109.2" stroke="#e01010" stroke-width="1.2"/>
<line x1="384.5" y1="115.9" x2="389.1" y2="119.2" stroke="#9020b0" stroke-width="1.2"/>
<line x1="389.1" y1="119.2" x2="393.7" y2="122.6" stroke="#e01010" stroke-width="1.2"/>
<line x1="395.0" y1="115.9" x2="394.4" y2="112.6" stroke="#1818c0" stroke-width="1.2"/>
<line x1="394.4" y1="112.6" x2="393.7" y2="109.2" stroke="#e01010" stroke-width="1.2"/>
<line x1="395.0" y1="115.9" x2="394.4" y2="119.2" stroke="#1818c0" stroke-width="1.2"/>
<line x1="394.4" y1="119.2" x2="393.7" y2="122.6" stroke="#e01010" stroke-width="1.2"/>
<line x1="395.0" y1="115.9" x2="399.9" y2="112.6" stroke="#1818c0" stroke-width="1.2"/>
<line x1="399.9" y1="112.6" x2="404.8" y2="109.2" stroke="#e01010" stroke-width="1.2"/>
<line x1="395.0" y1="115.9" x2="399.9" y2="119.2" stroke="#1818c0" stroke-width="1.2"/>
<line x1="399.9" y1="119.2" x2="404.8" y2="122.6" stroke="#e01010" stroke-width="1.2"/>
<line x1="405.5" y1="115.9" x2="404.8" y2="122.6" stroke="#e01010" stroke-width="0.8"/>
<line x1="415.3" y1="115.9" x2="415.9" y2="112.6" stroke="#9020b0" stroke-width="1.2"/>
<line x1="415.9" y1="112.6" x2="416.6" y2="109.2" stroke="#e01010" stroke-width="1.2"/>
<line x1="415.3" y1="115.9" x2="415.9" y2="119.2" stroke="#9020b0" stroke-width="1.2"/>
<line x1="415.9" y1="119.2" x2="416.6" y2="122.6" stroke="#e01010" stroke-width="1.2"/>
<line x1="425.8" y1="115.9" x2="421.2" y2="112.6" stroke="#9020b0" stroke-width="1.2"/>
<line x1="421.2" y1="112.6" x2="416.6" y2="109.2" stroke="#e01010" stroke-width="1.2"/>
<line x1="425.8" y1="115.9" x2="421.2" y2="119.2" stroke="#9020b0" stroke-width="1.2"/>
<line x1="421.2" y1="119.2" x2="416.6" y2="122.6" stroke="#e01010" stroke-width="1.2"/>
<line x1="425.8" y1="115.9" x2="425.8" y2="112.6" stroke="#9020b0" stroke-width="1.2"/>
<line x1="425.8" y1="112.6" x2="425.8" y2="109.2" stroke="#e01010" stroke-width="1.2"/>
<line x1="425.8" y1="115.9" x2="425.8" y2="119.2" stroke="#9020b0" stroke-width="1.2"/>
<line x1="425.8" y1="119.2" x2="425.8" y2="122.6" stroke="#e01010" stroke-width="1.2"/>
<line x1="425.8" y1="115.9" x2="430.4" y2="112.6" stroke="#9020b0" stroke-width="1.2"/>
<line x1="430.4" y1="112.6" x2="435.0" y2="109.2" stroke="#e01010" stroke-width="1.2"/>
<line x1="425.8" y1="115.9" x2="430.4" y2="119.2" stroke="#9020b0" stroke-width="1.2"/>
<line x1="430.4" y1="119.2" x2="435.0" y2="122.6" stroke="#e01010" stroke-width="1.2"/>
<circle cx="375.9" cy="109.2" r="2.3" fill="url(#gO)"/>
<circle cx="375.9" cy="122.6" r="2.3" fill="url(#gO)"/>
<circle cx="384.5" cy="109.2" r="2.3" fill="url(#gO)"/>
<circle cx="384.5" cy="122.6" r="2.3" fill="url(#gO)"/>
<circle cx="393.7" cy="109.2" r="2.3" fill="url(#gO)"/>
<circle cx="393.7" cy="122.6" r="2.3" fill="url(#gO)"/>
<circle cx="404.8" cy="109.2" r="2.3" fill="url(#gO)"/>
<circle cx="404.8" cy="122.6" r="2.3" fill="url(#gO)"/>
<circle cx="416.6" cy="109.2" r="2.3" fill="url(#gO)"/>
<circle cx="416.6" cy="122.6" r="2.3" fill="url(#gO)"/>
<circle cx="425.8" cy="109.2" r="2.3" fill="url(#gO)"/>
<circle cx="425.8" cy="122.6" r="2.3" fill="url(#gO)"/>
<circle cx="435.0" cy="109.2" r="2.3" fill="url(#gO)"/>
<circle cx="435.0" cy="122.6" r="2.3" fill="url(#gO)"/>
<circle cx="384.5" cy="115.9" r="3.0" fill="url(#gMn)"/>
<circle cx="395.0" cy="115.9" r="2.6" fill="url(#gCo)"/>
<circle cx="405.5" cy="115.9" r="3.8" fill="url(#gLi)"/>
<circle cx="415.3" cy="115.9" r="3.0" fill="url(#gMn)"/>
<circle cx="425.8" cy="115.9" r="3.0" fill="url(#gMn)"/>
<circle cx="385.1" cy="62.2" r="4.3" fill="url(#gLi)"/>
<circle cx="395.0" cy="62.2" r="4.3" fill="url(#gLi)"/>
<circle cx="405.5" cy="62.2" r="4.3" fill="url(#gLi)"/>
<circle cx="415.3" cy="62.2" r="4.3" fill="url(#gLi)"/>
<circle cx="425.8" cy="62.2" r="4.3" fill="url(#gLi)"/>
<circle cx="385.1" cy="98.4" r="4.3" fill="url(#gLi)"/>
<circle cx="395.0" cy="98.4" r="4.3" fill="url(#gLi)"/>
<circle cx="405.5" cy="98.4" r="4.3" fill="url(#gLi)"/>
<circle cx="415.3" cy="98.4" r="4.3" fill="url(#gLi)"/>
<circle cx="425.8" cy="98.4" r="4.3" fill="url(#gLi)"/>
<line x1="476.7" y1="41.1" x2="476.7" y2="114.6" stroke="#bbb" stroke-width="0.4"/>
<line x1="518.0" y1="41.1" x2="518.0" y2="114.6" stroke="#bbb" stroke-width="0.4"/>
<rect x="481.3" y="40.6" width="12.0" height="3.6" rx="1.8" fill="#1cc4e4"/>
<rect x="501.3" y="40.6" width="12.4" height="3.6" rx="1.8" fill="#1cc4e4"/>
<ellipse cx="476.7" cy="50.2" rx="2.0" ry="3.0" fill="#e8b000"/>
<ellipse cx="476.7" cy="50.2" rx="1.3" ry="2.4" fill="#f4ec18"/>
<ellipse cx="476.7" cy="50.2" rx="0.7" ry="1.3" fill="#f04010"/>
<ellipse cx="485.9" cy="50.2" rx="4.2" ry="3.3" fill="#e8b000"/>
<ellipse cx="485.9" cy="50.2" rx="3.5" ry="2.7" fill="#f4ec18"/>
<ellipse cx="485.9" cy="50.2" rx="1.9" ry="1.5" fill="#f04010"/>
<ellipse cx="497.0" cy="50.2" rx="3.8" ry="3.3" fill="#e8b000"/>
<ellipse cx="497.0" cy="50.2" rx="3.1" ry="2.7" fill="#f4ec18"/>
<ellipse cx="497.0" cy="50.2" rx="1.7" ry="1.5" fill="#f04010"/>
<ellipse cx="508.8" cy="50.2" rx="4.2" ry="3.3" fill="#e8b000"/>
<ellipse cx="508.8" cy="50.2" rx="3.5" ry="2.7" fill="#f4ec18"/>
<ellipse cx="508.8" cy="50.2" rx="1.9" ry="1.5" fill="#f04010"/>
<ellipse cx="518.0" cy="50.2" rx="2.0" ry="3.0" fill="#e8b000"/>
<ellipse cx="518.0" cy="50.2" rx="1.3" ry="2.4" fill="#f4ec18"/>
<ellipse cx="518.0" cy="50.2" rx="0.7" ry="1.3" fill="#f04010"/>
<line x1="476.7" y1="41.1" x2="472.4" y2="37.8" stroke="#9020b0" stroke-width="1.2"/>
<line x1="472.4" y1="37.8" x2="468.1" y2="34.4" stroke="#e01010" stroke-width="1.2"/>
<line x1="476.7" y1="41.1" x2="472.4" y2="44.5" stroke="#9020b0" stroke-width="1.2"/>
<line x1="472.4" y1="44.5" x2="468.1" y2="47.8" stroke="#e01010" stroke-width="1.2"/>
<line x1="476.7" y1="41.1" x2="476.7" y2="37.8" stroke="#9020b0" stroke-width="1.2"/>
<line x1="476.7" y1="37.8" x2="476.7" y2="34.4" stroke="#e01010" stroke-width="1.2"/>
<line x1="476.7" y1="41.1" x2="476.7" y2="44.5" stroke="#9020b0" stroke-width="1.2"/>
<line x1="476.7" y1="44.5" x2="476.7" y2="47.8" stroke="#e01010" stroke-width="1.2"/>
<line x1="476.7" y1="41.1" x2="481.3" y2="37.8" stroke="#9020b0" stroke-width="1.2"/>
<line x1="481.3" y1="37.8" x2="485.9" y2="34.4" stroke="#e01010" stroke-width="1.2"/>
<line x1="476.7" y1="41.1" x2="481.3" y2="44.5" stroke="#9020b0" stroke-width="1.2"/>
<line x1="481.3" y1="44.5" x2="485.9" y2="47.8" stroke="#e01010" stroke-width="1.2"/>
<line x1="487.2" y1="41.1" x2="486.6" y2="37.8" stroke="#1818c0" stroke-width="1.2"/>
<line x1="486.6" y1="37.8" x2="485.9" y2="34.4" stroke="#e01010" stroke-width="1.2"/>
<line x1="487.2" y1="41.1" x2="486.6" y2="44.5" stroke="#1818c0" stroke-width="1.2"/>
<line x1="486.6" y1="44.5" x2="485.9" y2="47.8" stroke="#e01010" stroke-width="1.2"/>
<line x1="487.2" y1="41.1" x2="492.1" y2="37.8" stroke="#1818c0" stroke-width="1.2"/>
<line x1="492.1" y1="37.8" x2="497.0" y2="34.4" stroke="#e01010" stroke-width="1.2"/>
<line x1="487.2" y1="41.1" x2="492.1" y2="44.5" stroke="#1818c0" stroke-width="1.2"/>
<line x1="492.1" y1="44.5" x2="497.0" y2="47.8" stroke="#e01010" stroke-width="1.2"/>
<line x1="497.7" y1="41.1" x2="497.0" y2="34.4" stroke="#e01010" stroke-width="0.8"/>
<line x1="507.5" y1="41.1" x2="508.1" y2="37.8" stroke="#9020b0" stroke-width="1.2"/>
<line x1="508.1" y1="37.8" x2="508.8" y2="34.4" stroke="#e01010" stroke-width="1.2"/>
<line x1="507.5" y1="41.1" x2="508.1" y2="44.5" stroke="#9020b0" stroke-width="1.2"/>
<line x1="508.1" y1="44.5" x2="508.8" y2="47.8" stroke="#e01010" stroke-width="1.2"/>
<line x1="518.0" y1="41.1" x2="513.4" y2="37.8" stroke="#9020b0" stroke-width="1.2"/>
<line x1="513.4" y1="37.8" x2="508.8" y2="34.4" stroke="#e01010" stroke-width="1.2"/>
<line x1="518.0" y1="41.1" x2="513.4" y2="44.5" stroke="#9020b0" stroke-width="1.2"/>
<line x1="513.4" y1="44.5" x2="508.8" y2="47.8" stroke="#e01010" stroke-width="1.2"/>
<line x1="518.0" y1="41.1" x2="518.0" y2="37.8" stroke="#9020b0" stroke-width="1.2"/>
<line x1="518.0" y1="37.8" x2="518.0" y2="34.4" stroke="#e01010" stroke-width="1.2"/>
<line x1="518.0" y1="41.1" x2="518.0" y2="44.5" stroke="#9020b0" stroke-width="1.2"/>
<line x1="518.0" y1="44.5" x2="518.0" y2="47.8" stroke="#e01010" stroke-width="1.2"/>
<line x1="518.0" y1="41.1" x2="522.6" y2="37.8" stroke="#9020b0" stroke-width="1.2"/>
<line x1="522.6" y1="37.8" x2="527.2" y2="34.4" stroke="#e01010" stroke-width="1.2"/>
<line x1="518.0" y1="41.1" x2="522.6" y2="44.5" stroke="#9020b0" stroke-width="1.2"/>
<line x1="522.6" y1="44.5" x2="527.2" y2="47.8" stroke="#e01010" stroke-width="1.2"/>
<circle cx="468.1" cy="34.4" r="2.3" fill="url(#gO)"/>
<circle cx="468.1" cy="47.8" r="2.3" fill="url(#gO)"/>
<circle cx="476.7" cy="34.4" r="2.3" fill="url(#gO)"/>
<circle cx="476.7" cy="47.8" r="2.3" fill="url(#gO)"/>
<circle cx="485.9" cy="34.4" r="2.3" fill="url(#gO)"/>
<circle cx="485.9" cy="47.8" r="2.3" fill="url(#gO)"/>
<circle cx="497.0" cy="34.4" r="2.3" fill="url(#gO)"/>
<circle cx="497.0" cy="47.8" r="2.3" fill="url(#gO)"/>
<circle cx="508.8" cy="34.4" r="2.3" fill="url(#gO)"/>
<circle cx="508.8" cy="47.8" r="2.3" fill="url(#gO)"/>
<circle cx="518.0" cy="34.4" r="2.3" fill="url(#gO)"/>
<circle cx="518.0" cy="47.8" r="2.3" fill="url(#gO)"/>
<circle cx="527.2" cy="34.4" r="2.3" fill="url(#gO)"/>
<circle cx="527.2" cy="47.8" r="2.3" fill="url(#gO)"/>
<circle cx="476.7" cy="41.1" r="3.0" fill="url(#gMn)"/>
<circle cx="487.2" cy="41.1" r="2.6" fill="url(#gCo)"/>
<circle cx="497.7" cy="41.1" r="3.8" fill="url(#gLi)"/>
<circle cx="507.5" cy="41.1" r="3.0" fill="url(#gMn)"/>
<circle cx="518.0" cy="41.1" r="3.0" fill="url(#gMn)"/>
<rect x="481.3" y="75.9" width="12.0" height="4.6" rx="1.8" fill="#1cc4e4"/>
<rect x="501.3" y="75.9" width="12.4" height="4.6" rx="1.8" fill="#1cc4e4"/>
<ellipse cx="476.7" cy="87.3" rx="2.3" ry="3.2" fill="#e8b000"/>
<ellipse cx="476.7" cy="87.3" rx="1.6" ry="2.6" fill="#f4ec18"/>
<ellipse cx="476.7" cy="87.3" rx="0.9" ry="1.4" fill="#f04010"/>
<ellipse cx="485.9" cy="87.3" rx="5.0" ry="3.5" fill="#e8b000"/>
<ellipse cx="485.9" cy="87.3" rx="4.3" ry="2.9" fill="#f4ec18"/>
<ellipse cx="485.9" cy="87.3" rx="2.4" ry="1.6" fill="#f04010"/>
<ellipse cx="497.0" cy="87.3" rx="4.5" ry="3.5" fill="#e8b000"/>
<ellipse cx="497.0" cy="87.3" rx="3.8" ry="2.9" fill="#f4ec18"/>
<ellipse cx="497.0" cy="87.3" rx="2.1" ry="1.6" fill="#f04010"/>
<ellipse cx="508.8" cy="87.3" rx="5.0" ry="3.5" fill="#e8b000"/>
<ellipse cx="508.8" cy="87.3" rx="4.3" ry="2.9" fill="#f4ec18"/>
<ellipse cx="508.8" cy="87.3" rx="2.4" ry="1.6" fill="#f04010"/>
<ellipse cx="518.0" cy="87.3" rx="2.3" ry="3.2" fill="#e8b000"/>
<ellipse cx="518.0" cy="87.3" rx="1.6" ry="2.6" fill="#f4ec18"/>
<ellipse cx="518.0" cy="87.3" rx="0.9" ry="1.4" fill="#f04010"/>
<ellipse cx="476.7" cy="69.1" rx="2.3" ry="3.2" fill="#e8b000"/>
<ellipse cx="476.7" cy="69.1" rx="1.6" ry="2.6" fill="#f4ec18"/>
<ellipse cx="476.7" cy="69.1" rx="0.9" ry="1.4" fill="#f04010"/>
<ellipse cx="485.9" cy="69.1" rx="5.0" ry="3.5" fill="#e8b000"/>
<ellipse cx="485.9" cy="69.1" rx="4.3" ry="2.9" fill="#f4ec18"/>
<ellipse cx="485.9" cy="69.1" rx="2.4" ry="1.6" fill="#f04010"/>
<ellipse cx="497.0" cy="69.1" rx="4.5" ry="3.5" fill="#e8b000"/>
<ellipse cx="497.0" cy="69.1" rx="3.8" ry="2.9" fill="#f4ec18"/>
<ellipse cx="497.0" cy="69.1" rx="2.1" ry="1.6" fill="#f04010"/>
<ellipse cx="508.8" cy="69.1" rx="5.0" ry="3.5" fill="#e8b000"/>
<ellipse cx="508.8" cy="69.1" rx="4.3" ry="2.9" fill="#f4ec18"/>
<ellipse cx="508.8" cy="69.1" rx="2.4" ry="1.6" fill="#f04010"/>
<ellipse cx="518.0" cy="69.1" rx="2.3" ry="3.2" fill="#e8b000"/>
<ellipse cx="518.0" cy="69.1" rx="1.6" ry="2.6" fill="#f4ec18"/>
<ellipse cx="518.0" cy="69.1" rx="0.9" ry="1.4" fill="#f04010"/>
<line x1="476.7" y1="78.2" x2="472.4" y2="74.8" stroke="#9020b0" stroke-width="1.2"/>
<line x1="472.4" y1="74.8" x2="468.1" y2="71.5" stroke="#e01010" stroke-width="1.2"/>
<line x1="476.7" y1="78.2" x2="472.4" y2="81.6" stroke="#9020b0" stroke-width="1.2"/>
<line x1="472.4" y1="81.6" x2="468.1" y2="84.9" stroke="#e01010" stroke-width="1.2"/>
<line x1="476.7" y1="78.2" x2="476.7" y2="74.8" stroke="#9020b0" stroke-width="1.2"/>
<line x1="476.7" y1="74.8" x2="476.7" y2="71.5" stroke="#e01010" stroke-width="1.2"/>
<line x1="476.7" y1="78.2" x2="476.7" y2="81.6" stroke="#9020b0" stroke-width="1.2"/>
<line x1="476.7" y1="81.6" x2="476.7" y2="84.9" stroke="#e01010" stroke-width="1.2"/>
<line x1="476.7" y1="78.2" x2="481.3" y2="74.8" stroke="#9020b0" stroke-width="1.2"/>
<line x1="481.3" y1="74.8" x2="485.9" y2="71.5" stroke="#e01010" stroke-width="1.2"/>
<line x1="476.7" y1="78.2" x2="481.3" y2="81.6" stroke="#9020b0" stroke-width="1.2"/>
<line x1="481.3" y1="81.6" x2="485.9" y2="84.9" stroke="#e01010" stroke-width="1.2"/>
<line x1="487.2" y1="78.2" x2="486.6" y2="74.8" stroke="#9020b0" stroke-width="1.2"/>
<line x1="486.6" y1="74.8" x2="485.9" y2="71.5" stroke="#e01010" stroke-width="1.2"/>
<line x1="487.2" y1="78.2" x2="486.6" y2="81.6" stroke="#9020b0" stroke-width="1.2"/>
<line x1="486.6" y1="81.6" x2="485.9" y2="84.9" stroke="#e01010" stroke-width="1.2"/>
<line x1="487.2" y1="78.2" x2="492.1" y2="74.8" stroke="#9020b0" stroke-width="1.2"/>
<line x1="492.1" y1="74.8" x2="497.0" y2="71.5" stroke="#e01010" stroke-width="1.2"/>
<line x1="487.2" y1="78.2" x2="492.1" y2="81.6" stroke="#9020b0" stroke-width="1.2"/>
<line x1="492.1" y1="81.6" x2="497.0" y2="84.9" stroke="#e01010" stroke-width="1.2"/>
<line x1="497.7" y1="78.2" x2="497.4" y2="74.8" stroke="#9020b0" stroke-width="1.2"/>
<line x1="497.4" y1="74.8" x2="497.0" y2="71.5" stroke="#e01010" stroke-width="1.2"/>
<line x1="497.7" y1="78.2" x2="497.4" y2="81.6" stroke="#9020b0" stroke-width="1.2"/>
<line x1="497.4" y1="81.6" x2="497.0" y2="84.9" stroke="#e01010" stroke-width="1.2"/>
<line x1="507.5" y1="78.2" x2="508.1" y2="74.8" stroke="#1818c0" stroke-width="1.2"/>
<line x1="508.1" y1="74.8" x2="508.8" y2="71.5" stroke="#e01010" stroke-width="1.2"/>
<line x1="507.5" y1="78.2" x2="508.1" y2="81.6" stroke="#1818c0" stroke-width="1.2"/>
<line x1="508.1" y1="81.6" x2="508.8" y2="84.9" stroke="#e01010" stroke-width="1.2"/>
<line x1="518.0" y1="78.2" x2="513.4" y2="74.8" stroke="#9020b0" stroke-width="1.2"/>
<line x1="513.4" y1="74.8" x2="508.8" y2="71.5" stroke="#e01010" stroke-width="1.2"/>
<line x1="518.0" y1="78.2" x2="513.4" y2="81.6" stroke="#9020b0" stroke-width="1.2"/>
<line x1="513.4" y1="81.6" x2="508.8" y2="84.9" stroke="#e01010" stroke-width="1.2"/>
<line x1="518.0" y1="78.2" x2="518.0" y2="74.8" stroke="#9020b0" stroke-width="1.2"/>
<line x1="518.0" y1="74.8" x2="518.0" y2="71.5" stroke="#e01010" stroke-width="1.2"/>
<line x1="518.0" y1="78.2" x2="518.0" y2="81.6" stroke="#9020b0" stroke-width="1.2"/>
<line x1="518.0" y1="81.6" x2="518.0" y2="84.9" stroke="#e01010" stroke-width="1.2"/>
<line x1="518.0" y1="78.2" x2="522.6" y2="74.8" stroke="#9020b0" stroke-width="1.2"/>
<line x1="522.6" y1="74.8" x2="527.2" y2="71.5" stroke="#e01010" stroke-width="1.2"/>
<line x1="518.0" y1="78.2" x2="522.6" y2="81.6" stroke="#9020b0" stroke-width="1.2"/>
<line x1="522.6" y1="81.6" x2="527.2" y2="84.9" stroke="#e01010" stroke-width="1.2"/>
<ellipse cx="485.9" cy="85.7" rx="4.0" ry="3.2" fill="#f01010"/>
<ellipse cx="508.8" cy="85.7" rx="4.0" ry="3.2" fill="#f01010"/>
<circle cx="468.1" cy="71.5" r="2.3" fill="url(#gO)"/>
<circle cx="468.1" cy="84.9" r="2.3" fill="url(#gO)"/>
<circle cx="476.7" cy="71.5" r="2.3" fill="url(#gO)"/>
<circle cx="476.7" cy="84.9" r="2.3" fill="url(#gO)"/>
<circle cx="485.9" cy="71.5" r="2.3" fill="url(#gO)"/>
<circle cx="485.9" cy="84.9" r="2.3" fill="url(#gO)"/>
<circle cx="497.0" cy="71.5" r="2.3" fill="url(#gO)"/>
<circle cx="497.0" cy="84.9" r="2.3" fill="url(#gO)"/>
<circle cx="508.8" cy="71.5" r="2.3" fill="url(#gO)"/>
<circle cx="508.8" cy="84.9" r="2.3" fill="url(#gO)"/>
<circle cx="518.0" cy="71.5" r="2.3" fill="url(#gO)"/>
<circle cx="518.0" cy="84.9" r="2.3" fill="url(#gO)"/>
<circle cx="527.2" cy="71.5" r="2.3" fill="url(#gO)"/>
<circle cx="527.2" cy="84.9" r="2.3" fill="url(#gO)"/>
<circle cx="476.7" cy="78.2" r="3.0" fill="url(#gMn)"/>
<circle cx="487.2" cy="78.2" r="3.0" fill="url(#gMn)"/>
<circle cx="497.7" cy="78.2" r="3.0" fill="url(#gMn)"/>
<circle cx="507.5" cy="78.2" r="2.6" fill="url(#gCo)"/>
<circle cx="518.0" cy="78.2" r="3.0" fill="url(#gMn)"/>
<rect x="481.3" y="111.5" width="12.0" height="3.6" rx="1.8" fill="#1cc4e4"/>
<rect x="501.3" y="111.5" width="12.4" height="3.6" rx="1.8" fill="#1cc4e4"/>
<ellipse cx="476.7" cy="105.5" rx="2.0" ry="3.0" fill="#e8b000"/>
<ellipse cx="476.7" cy="105.5" rx="1.3" ry="2.4" fill="#f4ec18"/>
<ellipse cx="476.7" cy="105.5" rx="0.7" ry="1.3" fill="#f04010"/>
<ellipse cx="485.9" cy="105.5" rx="4.2" ry="3.3" fill="#e8b000"/>
<ellipse cx="485.9" cy="105.5" rx="3.5" ry="2.7" fill="#f4ec18"/>
<ellipse cx="485.9" cy="105.5" rx="1.9" ry="1.5" fill="#f04010"/>
<ellipse cx="497.0" cy="105.5" rx="3.8" ry="3.3" fill="#e8b000"/>
<ellipse cx="497.0" cy="105.5" rx="3.1" ry="2.7" fill="#f4ec18"/>
<ellipse cx="497.0" cy="105.5" rx="1.7" ry="1.5" fill="#f04010"/>
<ellipse cx="508.8" cy="105.5" rx="4.2" ry="3.3" fill="#e8b000"/>
<ellipse cx="508.8" cy="105.5" rx="3.5" ry="2.7" fill="#f4ec18"/>
<ellipse cx="508.8" cy="105.5" rx="1.9" ry="1.5" fill="#f04010"/>
<ellipse cx="518.0" cy="105.5" rx="2.0" ry="3.0" fill="#e8b000"/>
<ellipse cx="518.0" cy="105.5" rx="1.3" ry="2.4" fill="#f4ec18"/>
<ellipse cx="518.0" cy="105.5" rx="0.7" ry="1.3" fill="#f04010"/>
<line x1="476.7" y1="114.6" x2="472.4" y2="111.2" stroke="#9020b0" stroke-width="1.2"/>
<line x1="472.4" y1="111.2" x2="468.1" y2="107.9" stroke="#e01010" stroke-width="1.2"/>
<line x1="476.7" y1="114.6" x2="472.4" y2="117.9" stroke="#9020b0" stroke-width="1.2"/>
<line x1="472.4" y1="117.9" x2="468.1" y2="121.3" stroke="#e01010" stroke-width="1.2"/>
<line x1="476.7" y1="114.6" x2="476.7" y2="111.2" stroke="#9020b0" stroke-width="1.2"/>
<line x1="476.7" y1="111.2" x2="476.7" y2="107.9" stroke="#e01010" stroke-width="1.2"/>
<line x1="476.7" y1="114.6" x2="476.7" y2="117.9" stroke="#9020b0" stroke-width="1.2"/>
<line x1="476.7" y1="117.9" x2="476.7" y2="121.3" stroke="#e01010" stroke-width="1.2"/>
<line x1="476.7" y1="114.6" x2="481.3" y2="111.2" stroke="#9020b0" stroke-width="1.2"/>
<line x1="481.3" y1="111.2" x2="485.9" y2="107.9" stroke="#e01010" stroke-width="1.2"/>
<line x1="476.7" y1="114.6" x2="481.3" y2="117.9" stroke="#9020b0" stroke-width="1.2"/>
<line x1="481.3" y1="117.9" x2="485.9" y2="121.3" stroke="#e01010" stroke-width="1.2"/>
<line x1="487.2" y1="114.6" x2="486.6" y2="111.2" stroke="#1818c0" stroke-width="1.2"/>
<line x1="486.6" y1="111.2" x2="485.9" y2="107.9" stroke="#e01010" stroke-width="1.2"/>
<line x1="487.2" y1="114.6" x2="486.6" y2="117.9" stroke="#1818c0" stroke-width="1.2"/>
<line x1="486.6" y1="117.9" x2="485.9" y2="121.3" stroke="#e01010" stroke-width="1.2"/>
<line x1="487.2" y1="114.6" x2="492.1" y2="111.2" stroke="#1818c0" stroke-width="1.2"/>
<line x1="492.1" y1="111.2" x2="497.0" y2="107.9" stroke="#e01010" stroke-width="1.2"/>
<line x1="487.2" y1="114.6" x2="492.1" y2="117.9" stroke="#1818c0" stroke-width="1.2"/>
<line x1="492.1" y1="117.9" x2="497.0" y2="121.3" stroke="#e01010" stroke-width="1.2"/>
<line x1="497.7" y1="114.6" x2="497.0" y2="121.3" stroke="#e01010" stroke-width="0.8"/>
<line x1="507.5" y1="114.6" x2="508.1" y2="111.2" stroke="#9020b0" stroke-width="1.2"/>
<line x1="508.1" y1="111.2" x2="508.8" y2="107.9" stroke="#e01010" stroke-width="1.2"/>
<line x1="507.5" y1="114.6" x2="508.1" y2="117.9" stroke="#9020b0" stroke-width="1.2"/>
<line x1="508.1" y1="117.9" x2="508.8" y2="121.3" stroke="#e01010" stroke-width="1.2"/>
<line x1="518.0" y1="114.6" x2="513.4" y2="111.2" stroke="#9020b0" stroke-width="1.2"/>
<line x1="513.4" y1="111.2" x2="508.8" y2="107.9" stroke="#e01010" stroke-width="1.2"/>
<line x1="518.0" y1="114.6" x2="513.4" y2="117.9" stroke="#9020b0" stroke-width="1.2"/>
<line x1="513.4" y1="117.9" x2="508.8" y2="121.3" stroke="#e01010" stroke-width="1.2"/>
<line x1="518.0" y1="114.6" x2="518.0" y2="111.2" stroke="#9020b0" stroke-width="1.2"/>
<line x1="518.0" y1="111.2" x2="518.0" y2="107.9" stroke="#e01010" stroke-width="1.2"/>
<line x1="518.0" y1="114.6" x2="518.0" y2="117.9" stroke="#9020b0" stroke-width="1.2"/>
<line x1="518.0" y1="117.9" x2="518.0" y2="121.3" stroke="#e01010" stroke-width="1.2"/>
<line x1="518.0" y1="114.6" x2="522.6" y2="111.2" stroke="#9020b0" stroke-width="1.2"/>
<line x1="522.6" y1="111.2" x2="527.2" y2="107.9" stroke="#e01010" stroke-width="1.2"/>
<line x1="518.0" y1="114.6" x2="522.6" y2="117.9" stroke="#9020b0" stroke-width="1.2"/>
<line x1="522.6" y1="117.9" x2="527.2" y2="121.3" stroke="#e01010" stroke-width="1.2"/>
<circle cx="468.1" cy="107.9" r="2.3" fill="url(#gO)"/>
<circle cx="468.1" cy="121.3" r="2.3" fill="url(#gO)"/>
<circle cx="476.7" cy="107.9" r="2.3" fill="url(#gO)"/>
<circle cx="476.7" cy="121.3" r="2.3" fill="url(#gO)"/>
<circle cx="485.9" cy="107.9" r="2.3" fill="url(#gO)"/>
<circle cx="485.9" cy="121.3" r="2.3" fill="url(#gO)"/>
<circle cx="497.0" cy="107.9" r="2.3" fill="url(#gO)"/>
<circle cx="497.0" cy="121.3" r="2.3" fill="url(#gO)"/>
<circle cx="508.8" cy="107.9" r="2.3" fill="url(#gO)"/>
<circle cx="508.8" cy="121.3" r="2.3" fill="url(#gO)"/>
<circle cx="518.0" cy="107.9" r="2.3" fill="url(#gO)"/>
<circle cx="518.0" cy="121.3" r="2.3" fill="url(#gO)"/>
<circle cx="527.2" cy="107.9" r="2.3" fill="url(#gO)"/>
<circle cx="527.2" cy="121.3" r="2.3" fill="url(#gO)"/>
<circle cx="476.7" cy="114.6" r="3.0" fill="url(#gMn)"/>
<circle cx="487.2" cy="114.6" r="2.6" fill="url(#gCo)"/>
<circle cx="497.7" cy="114.6" r="3.8" fill="url(#gLi)"/>
<circle cx="507.5" cy="114.6" r="3.0" fill="url(#gMn)"/>
<circle cx="518.0" cy="114.6" r="3.0" fill="url(#gMn)"/>
<circle cx="477.3" cy="59.5" r="4.3" fill="url(#gLi)"/>
<circle cx="487.2" cy="59.5" r="4.3" fill="url(#gLi)"/>
<circle cx="497.7" cy="59.5" r="4.3" fill="url(#gLi)"/>
<circle cx="507.5" cy="59.5" r="4.3" fill="url(#gLi)"/>
<circle cx="518.0" cy="59.5" r="4.3" fill="url(#gLi)"/>
<circle cx="477.3" cy="96.2" r="4.3" fill="url(#gLi)"/>
<circle cx="487.2" cy="96.2" r="4.3" fill="url(#gLi)"/>
<circle cx="497.7" cy="96.2" r="4.5" fill="url(#gNa)"/>
<circle cx="507.5" cy="96.2" r="4.3" fill="url(#gLi)"/>
<circle cx="518.0" cy="96.2" r="4.3" fill="url(#gLi)"/>
<circle cx="350.6" cy="143.1" r="2.8" fill="url(#gOl)"/>
<text x="360.3" y="145.2" font-family='"Liberation Serif", serif' font-size="6.2" font-weight="bold" text-anchor="start" fill="#222" stroke="#222" stroke-width="0.22" >O</text>
<circle cx="350.6" cy="159.4" r="5.7" fill="url(#gMn)"/>
<text x="360.3" y="161.5" font-family='"Liberation Serif", serif' font-size="6.2" font-weight="bold" text-anchor="start" fill="#222" stroke="#222" stroke-width="0.22" >Mn</text>
<circle cx="350.6" cy="175.6" r="5.6" fill="url(#gNi)"/>
<text x="360.3" y="177.7" font-family='"Liberation Serif", serif' font-size="6.2" font-weight="bold" text-anchor="start" fill="#222" stroke="#222" stroke-width="0.22" >Ni</text>
<circle cx="350.6" cy="192.3" r="5.2" fill="url(#gCo)"/>
<text x="360.3" y="194.4" font-family='"Liberation Serif", serif' font-size="6.2" font-weight="bold" text-anchor="start" fill="#222" stroke="#222" stroke-width="0.22" >Co</text>
<circle cx="350.6" cy="208.9" r="6.5" fill="url(#gLi)"/>
<text x="360.3" y="211.0" font-family='"Liberation Serif", serif' font-size="6.2" font-weight="bold" text-anchor="start" fill="#222" stroke="#222" stroke-width="0.22" >Li</text>
<circle cx="350.6" cy="227.4" r="8.1" fill="url(#gNa)"/>
<text x="360.3" y="229.5" font-family='"Liberation Serif", serif' font-size="6.2" font-weight="bold" text-anchor="start" fill="#222" stroke="#222" stroke-width="0.22" >Na</text>
<g clip-path="url(#clipm1)">
<rect x="378.4" y="138.9" width="55.5" height="93.0" fill="#22f022"/>
<circle cx="381.0" cy="137.0" r="7.5" fill="url(#blobB)"/>
<circle cx="405.5" cy="136.5" r="8" fill="url(#blobB)"/>
<circle cx="430.0" cy="137.0" r="7.5" fill="url(#blobB)"/>
<circle cx="380.8" cy="152.4" r="9.0" fill="url(#blobO)"/>
<circle cx="405.0" cy="151.4" r="9.0" fill="url(#blobO)"/>
<circle cx="431.5" cy="152.4" r="9.0" fill="url(#blobO)"/>
<circle cx="419.4" cy="161.1" r="9.4" fill="url(#blobH)"/>
<circle cx="420.4" cy="173.8" r="8.6" fill="url(#blobO)"/>
<circle cx="389.5" cy="180.4" r="9.0" fill="url(#blobO)"/>
<circle cx="379.5" cy="187.0" r="8.6" fill="url(#blobH)"/>
<circle cx="432.5" cy="186.0" r="8.6" fill="url(#blobH)"/>
<circle cx="380.3" cy="200.4" r="8.6" fill="url(#blobO)"/>
<circle cx="405.0" cy="202.3" r="9.0" fill="url(#blobO)"/>
<circle cx="431.5" cy="200.4" r="8.6" fill="url(#blobO)"/>
<circle cx="392.4" cy="208.1" r="9.4" fill="url(#blobH)"/>
<circle cx="419.4" cy="208.1" r="10.2" fill="url(#blobH)"/>
<circle cx="391.4" cy="223.6" r="9.0" fill="url(#blobO)"/>
<circle cx="417.5" cy="224.5" r="9.0" fill="url(#blobO)"/>
<circle cx="382.0" cy="234.0" r="7.5" fill="url(#blobB)"/>
<circle cx="405.5" cy="234.0" r="7.5" fill="url(#blobB)"/>
<circle cx="429.0" cy="234.0" r="7.5" fill="url(#blobB)"/>
<circle cx="392.0" cy="161.8" r="9.0" fill="url(#blobT)"/>
<circle cx="395.6" cy="159.8" r="3.0" fill="#0018f0"/>
<circle cx="392.0" cy="165.9" r="3.0" fill="#0018f0"/>
<circle cx="388.4" cy="159.8" r="3.0" fill="#0018f0"/>
<circle cx="392.0" cy="156.6" r="1.6" fill="#f02000"/>
<circle cx="396.5" cy="164.4" r="1.6" fill="#f02000"/>
<circle cx="387.5" cy="164.4" r="1.6" fill="#f02000"/>
<text x="383.8" y="142.8" font-family='"Liberation Serif", serif' font-size="6.3" font-weight="bold" text-anchor="middle" fill="#111" stroke="#111" stroke-width="0.22" >Mn</text>
<text x="405.8" y="142.8" font-family='"Liberation Serif", serif' font-size="6.3" font-weight="bold" text-anchor="middle" fill="#111" stroke="#111" stroke-width="0.22" >Mn</text>
<text x="428.8" y="142.8" font-family='"Liberation Serif", serif' font-size="6.3" font-weight="bold" text-anchor="middle" fill="#111" stroke="#111" stroke-width="0.22" >Mn</text>
<text x="381.2" y="154.8" font-family='"Liberation Serif", serif' font-size="6.3" font-weight="bold" text-anchor="middle" fill="#111" stroke="#111" stroke-width="0.22" >O</text>
<text x="405" y="153.8" font-family='"Liberation Serif", serif' font-size="6.3" font-weight="bold" text-anchor="middle" fill="#111" stroke="#111" stroke-width="0.22" >O</text>
<text x="431.5" y="154.8" font-family='"Liberation Serif", serif' font-size="6.3" font-weight="bold" text-anchor="middle" fill="#111" stroke="#111" stroke-width="0.22" >O</text>
<text x="419.4" y="163.8" font-family='"Liberation Serif", serif' font-size="6.3" font-weight="bold" text-anchor="middle" fill="#111" stroke="#111" stroke-width="0.22" >Mn</text>
<text x="420.4" y="176.1" font-family='"Liberation Serif", serif' font-size="6.3" font-weight="bold" text-anchor="middle" fill="#111" stroke="#111" stroke-width="0.22" >O</text>
<text x="389.5" y="182.7" font-family='"Liberation Serif", serif' font-size="6.3" font-weight="bold" text-anchor="middle" fill="#111" stroke="#111" stroke-width="0.22" >O</text>
<text x="384.7" y="190.0" font-family='"Liberation Serif", serif' font-size="6.3" font-weight="bold" text-anchor="middle" fill="#111" stroke="#111" stroke-width="0.22" >Mn</text>
<text x="404" y="188.6" font-family='"Liberation Serif", serif' font-size="6.3" font-weight="bold" text-anchor="middle" fill="#111" stroke="#111" stroke-width="0.22" >Li</text>
<text x="430" y="189.0" font-family='"Liberation Serif", serif' font-size="6.3" font-weight="bold" text-anchor="middle" fill="#111" stroke="#111" stroke-width="0.22" >Mn</text>
<text x="380.8" y="202.7" font-family='"Liberation Serif", serif' font-size="6.3" font-weight="bold" text-anchor="middle" fill="#111" stroke="#111" stroke-width="0.22" >O</text>
<text x="405" y="204.6" font-family='"Liberation Serif", serif' font-size="6.3" font-weight="bold" text-anchor="middle" fill="#111" stroke="#111" stroke-width="0.22" >O</text>
<text x="431.5" y="202.7" font-family='"Liberation Serif", serif' font-size="6.3" font-weight="bold" text-anchor="middle" fill="#111" stroke="#111" stroke-width="0.22" >O</text>
<text x="391.4" y="211.2" font-family='"Liberation Serif", serif' font-size="6.3" font-weight="bold" text-anchor="middle" fill="#111" stroke="#111" stroke-width="0.22" >Mn</text>
<text x="419.4" y="211.2" font-family='"Liberation Serif", serif' font-size="6.3" font-weight="bold" text-anchor="middle" fill="#111" stroke="#111" stroke-width="0.22" >Co</text>
<text x="391.4" y="225.9" font-family='"Liberation Serif", serif' font-size="6.3" font-weight="bold" text-anchor="middle" fill="#111" stroke="#111" stroke-width="0.22" >O</text>
<text x="417.5" y="226.8" font-family='"Liberation Serif", serif' font-size="6.3" font-weight="bold" text-anchor="middle" fill="#111" stroke="#111" stroke-width="0.22" >O</text>
<text x="381.8" y="231.2" font-family='"Liberation Serif", serif' font-size="6.3" font-weight="bold" text-anchor="middle" fill="#111" stroke="#111" stroke-width="0.22" >Mn</text>
<text x="405" y="231.2" font-family='"Liberation Serif", serif' font-size="6.3" font-weight="bold" text-anchor="middle" fill="#111" stroke="#111" stroke-width="0.22" >Mn</text>
<text x="428.1" y="231.2" font-family='"Liberation Serif", serif' font-size="6.3" font-weight="bold" text-anchor="middle" fill="#111" stroke="#111" stroke-width="0.22" >Mn</text>
<text x="392.4" y="165.6" font-family='"Liberation Serif", serif' font-size="6.3" font-weight="bold" text-anchor="middle" fill="#111" stroke="#111" stroke-width="0.22" >Ni</text>
</g>
<g clip-path="url(#clipm2)">
<rect x="470.9" y="138.3" width="55.0" height="93.2" fill="#22f022"/>
<circle cx="474.0" cy="137.0" r="7.5" fill="url(#blobB)"/>
<circle cx="497.0" cy="136.5" r="8" fill="url(#blobB)"/>
<circle cx="520.0" cy="137.0" r="7.5" fill="url(#blobB)"/>
<circle cx="473.8" cy="152.4" r="9.0" fill="url(#blobO)"/>
<circle cx="497.9" cy="151.8" r="9.0" fill="url(#blobO)"/>
<circle cx="523.5" cy="152.4" r="9.0" fill="url(#blobO)"/>
<circle cx="511.4" cy="161.1" r="9.4" fill="url(#blobH)"/>
<circle cx="513.4" cy="174.6" r="7" fill="url(#blobO2)"/>
<circle cx="482.5" cy="180.4" r="9.0" fill="url(#blobO)"/>
<circle cx="471.5" cy="187.5" r="8.6" fill="url(#blobH)"/>
<circle cx="525.0" cy="186.0" r="8.6" fill="url(#blobH)"/>
<circle cx="473.3" cy="201.4" r="8.6" fill="url(#blobO)"/>
<circle cx="497.9" cy="202.3" r="9.0" fill="url(#blobO)"/>
<circle cx="523.5" cy="201.4" r="8.6" fill="url(#blobO)"/>
<circle cx="484.4" cy="208.1" r="9.4" fill="url(#blobH)"/>
<circle cx="484.4" cy="220.7" r="7" fill="url(#blobO2)"/>
<circle cx="475.0" cy="234.0" r="7.5" fill="url(#blobB)"/>
<circle cx="497.5" cy="234.0" r="8" fill="url(#blobB)"/>
<circle cx="520.0" cy="234.0" r="7.5" fill="url(#blobB)"/>
<circle cx="484.2" cy="162.3" r="9.0" fill="url(#blobT)"/>
<circle cx="487.8" cy="160.2" r="3.0" fill="#0018f0"/>
<circle cx="484.2" cy="166.4" r="3.0" fill="#0018f0"/>
<circle cx="480.6" cy="160.2" r="3.0" fill="#0018f0"/>
<circle cx="484.2" cy="157.1" r="1.6" fill="#f02000"/>
<circle cx="488.7" cy="164.9" r="1.6" fill="#f02000"/>
<circle cx="479.7" cy="164.9" r="1.6" fill="#f02000"/>
<circle cx="512.4" cy="208.1" r="9.5" fill="url(#blobT)"/>
<ellipse cx="508.6" cy="206.5" rx="3.2" ry="2.6" fill="#0018f0"/>
<ellipse cx="516.2" cy="208.7" rx="3.0" ry="3.4" fill="#0018f0"/>
<ellipse cx="510.8" cy="212.7" rx="3.0" ry="2.8" fill="#0018f0"/>
<ellipse cx="512.9" cy="208.9" rx="3.0" ry="2.8" fill="#0018f0"/>
<ellipse cx="511.7" cy="203.1" rx="2.1" ry="1.6" fill="#f02000"/>
<circle cx="506.4" cy="210.4" r="1.6" fill="#f02000"/>
<text x="475.7" y="142.5" font-family='"Liberation Serif", serif' font-size="6.3" font-weight="bold" text-anchor="middle" fill="#111" stroke="#111" stroke-width="0.22" >Mn</text>
<text x="497" y="142.5" font-family='"Liberation Serif", serif' font-size="6.3" font-weight="bold" text-anchor="middle" fill="#111" stroke="#111" stroke-width="0.22" >Mn</text>
<text x="519.7" y="142.5" font-family='"Liberation Serif", serif' font-size="6.3" font-weight="bold" text-anchor="middle" fill="#111" stroke="#111" stroke-width="0.22" >Mn</text>
<text x="474.2" y="154.8" font-family='"Liberation Serif", serif' font-size="6.3" font-weight="bold" text-anchor="middle" fill="#111" stroke="#111" stroke-width="0.22" >O</text>
<text x="497.9" y="154.2" font-family='"Liberation Serif", serif' font-size="6.3" font-weight="bold" text-anchor="middle" fill="#111" stroke="#111" stroke-width="0.22" >O</text>
<text x="523" y="154.8" font-family='"Liberation Serif", serif' font-size="6.3" font-weight="bold" text-anchor="middle" fill="#111" stroke="#111" stroke-width="0.22" >O</text>
<text x="511.4" y="163.8" font-family='"Liberation Serif", serif' font-size="6.3" font-weight="bold" text-anchor="middle" fill="#111" stroke="#111" stroke-width="0.22" >Mn</text>
<text x="513.4" y="177" font-family='"Liberation Serif", serif' font-size="6.3" font-weight="bold" text-anchor="middle" fill="#111" stroke="#111" stroke-width="0.22" >O</text>
<text x="482.5" y="182.7" font-family='"Liberation Serif", serif' font-size="6.3" font-weight="bold" text-anchor="middle" fill="#111" stroke="#111" stroke-width="0.22" >O</text>
<text x="498.9" y="188.3" font-family='"Liberation Serif", serif' font-size="6.3" font-weight="bold" text-anchor="middle" fill="#111" stroke="#111" stroke-width="0.22" >Li</text>
<text x="476.7" y="191.8" font-family='"Liberation Serif", serif' font-size="6.3" font-weight="bold" text-anchor="middle" fill="#111" stroke="#111" stroke-width="0.22" >Mn</text>
<text x="521" y="190.8" font-family='"Liberation Serif", serif' font-size="6.3" font-weight="bold" text-anchor="middle" fill="#111" stroke="#111" stroke-width="0.22" >Mn</text>
<text x="473.8" y="203.7" font-family='"Liberation Serif", serif' font-size="6.3" font-weight="bold" text-anchor="middle" fill="#111" stroke="#111" stroke-width="0.22" >O</text>
<text x="497.9" y="204.6" font-family='"Liberation Serif", serif' font-size="6.3" font-weight="bold" text-anchor="middle" fill="#111" stroke="#111" stroke-width="0.22" >O</text>
<text x="523" y="203.7" font-family='"Liberation Serif", serif' font-size="6.3" font-weight="bold" text-anchor="middle" fill="#111" stroke="#111" stroke-width="0.22" >O</text>
<text x="486.3" y="211.2" font-family='"Liberation Serif", serif' font-size="6.3" font-weight="bold" text-anchor="middle" fill="#111" stroke="#111" stroke-width="0.22" >Mn</text>
<text x="512.4" y="211.2" font-family='"Liberation Serif", serif' font-size="6.3" font-weight="bold" text-anchor="middle" fill="#111" stroke="#111" stroke-width="0.22" >Co</text>
<text x="484.4" y="223.0" font-family='"Liberation Serif", serif' font-size="6.3" font-weight="bold" text-anchor="middle" fill="#111" stroke="#111" stroke-width="0.22" >O</text>
<text x="512.4" y="224.8" font-family='"Liberation Serif", serif' font-size="6.3" font-weight="bold" text-anchor="middle" fill="#111" stroke="#111" stroke-width="0.22" >VO</text>
<text x="475.7" y="231.0" font-family='"Liberation Serif", serif' font-size="6.3" font-weight="bold" text-anchor="middle" fill="#111" stroke="#111" stroke-width="0.22" >Mn</text>
<text x="497" y="231.0" font-family='"Liberation Serif", serif' font-size="6.3" font-weight="bold" text-anchor="middle" fill="#111" stroke="#111" stroke-width="0.22" >Mn</text>
<text x="519.2" y="231.0" font-family='"Liberation Serif", serif' font-size="6.3" font-weight="bold" text-anchor="middle" fill="#111" stroke="#111" stroke-width="0.22" >Mn</text>
<text x="484.4" y="165.6" font-family='"Liberation Serif", serif' font-size="6.3" font-weight="bold" text-anchor="middle" fill="#111" stroke="#111" stroke-width="0.22" >Ni</text>
</g>
<rect x="362" y="244" width="164.4" height="7.6" fill="url(#jet)" stroke="#333" stroke-width="0.4"/>
<text x="360.2" y="250.6" font-family='"Liberation Serif", serif' font-size="8.0" font-weight="bold" text-anchor="end" fill="#111" stroke="#111" stroke-width="0.22" >-0.2</text>
<text x="530.4" y="250.2" font-family='"Liberation Serif", serif' font-size="7.7" font-weight="bold" text-anchor="start" fill="#111" stroke="#111" stroke-width="0.22" >0.2</text>
</svg>
</body></html>
